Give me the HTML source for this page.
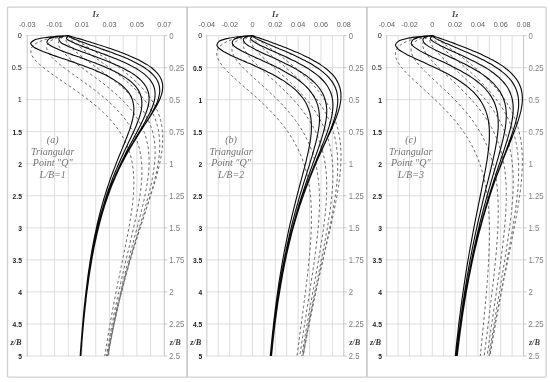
<!DOCTYPE html>
<html><head><meta charset="utf-8"><title>Iz</title>
<style>
html,body{margin:0;padding:0;background:#fff;}
svg{display:block;}
text{font-family:"Liberation Sans",sans-serif;}
.t{font-family:"Liberation Serif",serif;font-style:italic;font-weight:bold;font-size:8.4px;fill:#444;text-anchor:middle;}
.xl{font-size:8.0px;fill:#5f5f5f;text-anchor:middle;}
.yl{font-size:7.3px;fill:#262626;text-anchor:end;}
.b{font-weight:bold;font-size:6.7px;fill:#222;}
.ts{font-size:6.9px;}
.yr{font-size:8.65px;fill:#808080;text-anchor:start;}
.zb{font-family:"Liberation Serif",serif;font-style:italic;font-weight:bold;font-size:8.3px;fill:#333;}
.zr{fill:#444;}
.an{font-family:"Liberation Serif",serif;font-style:italic;font-size:10.0px;fill:#737373;text-anchor:middle;}
</style></head><body>
<svg width="550" height="382" viewBox="0 0 550 382">
<rect width="550" height="382" fill="#fff"/>
<rect x="7.5" y="7.1" width="538.6" height="370" rx="1.2" fill="none" stroke="#d0d0d0" stroke-width="1.35"/>
<path d="M187.1 7.1V377.1M366.9 7.1V377.1" stroke="#c2c2c2" stroke-width="1.5" fill="none"/>
<path d="M40.91 35.60V356.00M54.62 35.60V356.00M68.33 35.60V356.00M82.04 35.60V356.00M95.75 35.60V356.00M109.46 35.60V356.00M123.17 35.60V356.00M136.88 35.60V356.00M150.59 35.60V356.00M27.20 35.60H164.30M27.20 67.64H164.30M27.20 99.68H164.30M27.20 131.72H164.30M27.20 163.76H164.30M27.20 195.80H164.30M27.20 227.84H164.30M27.20 259.88H164.30M27.20 291.92H164.30M27.20 323.96H164.30M27.20 356.00H164.30" stroke="#d9d9d9" stroke-width="0.9" fill="none"/>
<path d="M27.20 35.60V356.00M164.30 35.60V356.00M164.30 35.60h2.8M164.30 67.64h2.8M164.30 99.68h2.8M164.30 131.72h2.8M164.30 163.76h2.8M164.30 195.80h2.8M164.30 227.84h2.8M164.30 259.88h2.8M164.30 291.92h2.8M164.30 323.96h2.8M164.30 356.00h2.8" stroke="#bfbfbf" stroke-width="0.9" fill="none"/>
<path d="M27.20 35.60h-1.6M27.20 67.64h-1.6M27.20 99.68h-1.6M27.20 131.72h-1.6M27.20 163.76h-1.6M27.20 195.80h-1.6M27.20 227.84h-1.6M27.20 259.88h-1.6M27.20 291.92h-1.6M27.20 323.96h-1.6M27.20 356.00h-1.6" stroke="#d4d4d4" stroke-width="0.9" fill="none"/>
<text x="95.8" y="16.5" class="t">I<tspan class="ts" dx="0.4">z</tspan></text>
<text transform="translate(27.20 26.7) scale(.91 1)" class="xl">-0.03</text>
<text transform="translate(54.62 26.7) scale(.91 1)" class="xl">-0.01</text>
<text transform="translate(82.04 26.7) scale(.91 1)" class="xl">0.01</text>
<text transform="translate(109.46 26.7) scale(.91 1)" class="xl">0.03</text>
<text transform="translate(136.88 26.7) scale(.91 1)" class="xl">0.05</text>
<text transform="translate(164.30 26.7) scale(.91 1)" class="xl">0.07</text>
<text x="21.90" y="38.20" class="yl">0</text>
<text x="21.90" y="70.24" class="yl">0.5</text>
<text x="21.90" y="102.28" class="yl">1</text>
<text x="21.90" y="134.62" class="yl b">1.5</text>
<text x="21.90" y="166.66" class="yl b">2</text>
<text x="21.90" y="198.70" class="yl b">2.5</text>
<text x="21.90" y="230.74" class="yl b">3</text>
<text x="21.90" y="262.78" class="yl b">3.5</text>
<text x="21.90" y="294.82" class="yl b">4</text>
<text x="21.90" y="326.86" class="yl b">4.5</text>
<text x="21.90" y="358.90" class="yl b">5</text>
<text transform="translate(169.30 38.90) scale(.9 1)" class="yr">0</text>
<text transform="translate(169.30 70.94) scale(.9 1)" class="yr">0.25</text>
<text transform="translate(169.30 102.98) scale(.9 1)" class="yr">0.5</text>
<text transform="translate(169.30 135.02) scale(.9 1)" class="yr">0.75</text>
<text transform="translate(169.30 167.06) scale(.9 1)" class="yr">1</text>
<text transform="translate(169.30 199.10) scale(.9 1)" class="yr">1.25</text>
<text transform="translate(169.30 231.14) scale(.9 1)" class="yr">1.5</text>
<text transform="translate(169.30 263.18) scale(.9 1)" class="yr">1.75</text>
<text transform="translate(169.30 295.22) scale(.9 1)" class="yr">2</text>
<text transform="translate(169.30 327.26) scale(.9 1)" class="yr">2.25</text>
<text transform="translate(169.30 359.30) scale(.9 1)" class="yr">2.5</text>
<text x="21.60" y="345.3" class="zb" text-anchor="end">z/B</text>
<text x="169.70" y="344.9" class="zb zr">z/B</text>
<text x="52.70" y="143.30" class="an">(a)</text>
<text x="52.70" y="154.95" class="an">Triangular</text>
<text x="52.70" y="166.30" class="an">Point "Q"</text>
<text x="52.70" y="177.65" class="an">L/B=1</text>
<path d="M68.3 35.6C66.7 35.7 65.0 35.9 63.4 36.0C61.7 36.2 60.0 36.4 58.4 36.7C56.8 36.9 55.1 37.2 53.5 37.5C51.9 37.9 50.2 38.2 48.6 38.6C47.0 39.0 45.4 39.5 43.8 40.0C42.2 40.5 40.6 41.1 39.2 41.8C37.7 42.5 36.1 43.2 34.8 44.3C33.6 45.3 32.2 46.5 31.5 47.9C30.8 49.3 30.7 51.2 30.9 52.8C31.1 54.4 32.1 55.9 33.0 57.3C33.8 58.7 35.0 59.9 36.1 61.2C37.2 62.4 38.5 63.5 39.7 64.6C41.0 65.7 42.3 66.8 43.6 67.8C44.9 68.9 46.2 69.9 47.5 70.8C48.9 71.8 50.2 72.8 51.6 73.8C52.9 74.7 54.3 75.7 55.7 76.6C57.0 77.6 58.4 78.5 59.8 79.5C61.1 80.4 62.5 81.4 63.9 82.3C65.3 83.2 66.6 84.2 68.0 85.1C69.4 86.0 70.8 87.0 72.1 87.9C73.5 88.9 74.9 89.8 76.2 90.8C77.6 91.7 78.9 92.7 80.3 93.7C81.6 94.7 83.0 95.6 84.3 96.6C85.7 97.6 87.0 98.6 88.3 99.7C89.6 100.7 90.9 101.7 92.2 102.8C93.5 103.8 94.8 104.9 96.1 105.9C97.3 107.0 98.6 108.1 99.8 109.2C101.1 110.3 102.3 111.5 103.5 112.6C104.7 113.8 105.9 115.0 107.0 116.1C108.2 117.3 109.3 118.6 110.4 119.8C111.5 121.0 112.6 122.3 113.7 123.6C114.7 124.9 115.8 126.2 116.8 127.5C117.7 128.9 118.7 130.2 119.6 131.6C120.5 133.0 121.4 134.4 122.2 135.9C123.1 137.3 123.9 138.8 124.6 140.3C125.4 141.7 126.1 143.3 126.7 144.8C127.4 146.3 128.0 147.9 128.6 149.4C129.1 151.0 129.6 152.6 130.1 154.2C130.6 155.8 131.0 157.4 131.4 159.0C131.7 160.6 132.1 162.3 132.4 163.9C132.6 165.5 132.9 167.2 133.1 168.8C133.3 170.5 133.4 172.2 133.5 173.8C133.7 175.5 133.8 177.1 133.8 178.8C133.9 180.5 133.9 182.1 133.9 183.8C133.8 185.5 133.8 187.1 133.7 188.8C133.7 190.5 133.6 192.1 133.5 193.8C133.4 195.4 133.2 197.1 133.1 198.8C132.9 200.4 132.7 202.1 132.6 203.7C132.4 205.4 132.2 207.0 131.9 208.7C131.7 210.3 131.5 212.0 131.2 213.6C131.0 215.3 130.7 216.9 130.5 218.6C130.2 220.2 129.9 221.8 129.6 223.5C129.4 225.1 129.1 226.8 128.8 228.4C128.5 230.0 128.2 231.7 127.9 233.3C127.6 234.9 127.2 236.6 126.9 238.2C126.6 239.9 126.3 241.5 126.0 243.1C125.6 244.7 125.3 246.4 125.0 248.0C124.7 249.6 124.3 251.3 124.0 252.9C123.7 254.5 123.3 256.2 123.0 257.8C122.7 259.4 122.3 261.1 122.0 262.7C121.6 264.3 121.3 266.0 121.0 267.6C120.6 269.2 120.3 270.8 120.0 272.5C119.6 274.1 119.3 275.7 119.0 277.4C118.6 279.0 118.3 280.6 118.0 282.3C117.7 283.9 117.3 285.5 117.0 287.2C116.7 288.8 116.4 290.4 116.0 292.1C115.7 293.7 115.4 295.3 115.1 297.0C114.8 298.6 114.4 300.2 114.1 301.9C113.8 303.5 113.5 305.1 113.2 306.8C112.9 308.4 112.6 310.0 112.3 311.7C112.0 313.3 111.7 315.0 111.4 316.6C111.1 318.2 110.8 319.9 110.5 321.5C110.2 323.1 109.9 324.8 109.6 326.4C109.3 328.1 109.1 329.7 108.8 331.3C108.5 333.0 108.2 334.6 107.9 336.3C107.7 337.9 107.4 339.6 107.1 341.2C106.9 342.8 106.6 344.5 106.3 346.1C106.1 347.8 105.8 349.4 105.6 351.1C105.3 352.7 105.0 354.4 104.8 356.0M68.3 35.6C66.7 35.8 65.0 36.0 63.4 36.3C61.8 36.6 60.1 36.9 58.6 37.4C57.0 37.9 55.4 38.4 53.9 39.1C52.4 39.8 50.8 40.6 49.6 41.7C48.5 42.8 47.2 44.2 46.8 45.7C46.5 47.2 46.8 49.1 47.3 50.6C47.8 52.1 48.8 53.5 49.8 54.8C50.8 56.2 52.0 57.4 53.1 58.6C54.3 59.7 55.5 60.8 56.8 61.9C58.0 63.0 59.3 64.1 60.6 65.1C61.9 66.2 63.2 67.2 64.5 68.2C65.9 69.2 67.2 70.1 68.5 71.1C69.9 72.1 71.2 73.1 72.6 74.0C73.9 75.0 75.3 76.0 76.6 76.9C78.0 77.9 79.3 78.9 80.7 79.8C82.0 80.8 83.4 81.7 84.7 82.7C86.1 83.7 87.4 84.7 88.8 85.6C90.1 86.6 91.4 87.6 92.8 88.6C94.1 89.6 95.4 90.6 96.7 91.6C98.0 92.7 99.3 93.7 100.6 94.7C101.9 95.8 103.2 96.8 104.5 97.9C105.7 99.0 107.0 100.1 108.2 101.2C109.4 102.3 110.7 103.4 111.9 104.6C113.1 105.7 114.3 106.9 115.4 108.0C116.6 109.2 117.7 110.4 118.8 111.7C120.0 112.9 121.0 114.1 122.1 115.4C123.2 116.7 124.2 118.0 125.2 119.3C126.2 120.6 127.2 122.0 128.1 123.4C129.0 124.8 129.9 126.2 130.7 127.6C131.6 129.0 132.4 130.5 133.1 131.9C133.9 133.4 134.6 134.9 135.3 136.5C135.9 138.0 136.5 139.5 137.1 141.1C137.6 142.6 138.2 144.2 138.6 145.8C139.1 147.4 139.5 149.0 139.8 150.6C140.2 152.3 140.5 153.9 140.8 155.5C141.0 157.2 141.2 158.8 141.4 160.5C141.6 162.1 141.7 163.8 141.8 165.4C141.9 167.1 141.9 168.8 141.9 170.4C141.9 172.1 141.9 173.7 141.9 175.4C141.8 177.1 141.7 178.7 141.6 180.4C141.5 182.0 141.4 183.7 141.2 185.3C141.0 187.0 140.9 188.6 140.7 190.3C140.4 191.9 140.2 193.6 140.0 195.2C139.7 196.8 139.5 198.5 139.2 200.1C138.9 201.8 138.7 203.4 138.4 205.0C138.1 206.7 137.7 208.3 137.4 209.9C137.1 211.6 136.8 213.2 136.4 214.8C136.1 216.4 135.8 218.1 135.4 219.7C135.1 221.3 134.7 222.9 134.3 224.5C134.0 226.2 133.6 227.8 133.2 229.4C132.9 231.0 132.5 232.6 132.1 234.2C131.7 235.9 131.4 237.5 131.0 239.1C130.6 240.7 130.2 242.3 129.8 243.9C129.5 245.6 129.1 247.2 128.7 248.8C128.3 250.4 127.9 252.0 127.5 253.6C127.1 255.2 126.8 256.9 126.4 258.5C126.0 260.1 125.6 261.7 125.2 263.3C124.9 264.9 124.5 266.5 124.1 268.2C123.7 269.8 123.3 271.4 123.0 273.0C122.6 274.6 122.2 276.2 121.9 277.9C121.5 279.5 121.1 281.1 120.7 282.7C120.4 284.3 120.0 286.0 119.7 287.6C119.3 289.2 118.9 290.8 118.6 292.4C118.2 294.1 117.9 295.7 117.5 297.3C117.2 298.9 116.8 300.5 116.5 302.2C116.2 303.8 115.8 305.4 115.5 307.0C115.2 308.7 114.8 310.3 114.5 311.9C114.2 313.6 113.8 315.2 113.5 316.8C113.2 318.4 112.9 320.1 112.6 321.7C112.2 323.3 111.9 325.0 111.6 326.6C111.3 328.2 111.0 329.8 110.7 331.5C110.4 333.1 110.1 334.7 109.8 336.4C109.5 338.0 109.2 339.6 108.9 341.3C108.7 342.9 108.4 344.5 108.1 346.2C107.8 347.8 107.5 349.5 107.3 351.1C107.0 352.7 106.7 354.4 106.4 356.0M68.3 35.6C66.7 36.0 65.0 36.2 63.5 36.9C62.1 37.6 60.4 38.5 59.6 39.8C58.8 41.1 58.4 43.0 58.6 44.5C58.8 46.1 59.8 47.6 60.7 49.0C61.5 50.4 62.7 51.7 63.8 52.9C65.0 54.1 66.2 55.2 67.4 56.3C68.6 57.5 69.9 58.5 71.2 59.6C72.5 60.6 73.8 61.7 75.1 62.7C76.4 63.7 77.7 64.7 79.1 65.7C80.4 66.7 81.7 67.7 83.1 68.6C84.4 69.6 85.7 70.6 87.1 71.6C88.4 72.6 89.8 73.5 91.1 74.5C92.4 75.5 93.8 76.5 95.1 77.5C96.4 78.4 97.8 79.4 99.1 80.4C100.4 81.4 101.7 82.4 103.1 83.4C104.4 84.5 105.7 85.5 107.0 86.5C108.3 87.6 109.5 88.6 110.8 89.7C112.1 90.7 113.4 91.8 114.6 92.9C115.9 94.0 117.1 95.1 118.3 96.2C119.5 97.4 120.7 98.5 121.9 99.7C123.1 100.8 124.2 102.0 125.4 103.2C126.5 104.5 127.6 105.7 128.7 106.9C129.8 108.2 130.9 109.5 131.9 110.8C132.9 112.1 133.9 113.4 134.8 114.8C135.8 116.1 136.7 117.5 137.6 118.9C138.5 120.3 139.3 121.8 140.1 123.2C140.9 124.7 141.6 126.2 142.3 127.7C143.0 129.2 143.6 130.7 144.2 132.3C144.8 133.8 145.3 135.4 145.8 137.0C146.3 138.6 146.7 140.2 147.0 141.8C147.4 143.4 147.7 145.1 148.0 146.7C148.3 148.3 148.5 150.0 148.6 151.6C148.8 153.3 148.9 155.0 149.0 156.6C149.1 158.3 149.1 159.9 149.1 161.6C149.1 163.2 149.1 164.9 149.0 166.6C148.9 168.2 148.8 169.9 148.7 171.5C148.5 173.2 148.4 174.8 148.2 176.5C148.0 178.1 147.7 179.8 147.5 181.4C147.3 183.1 147.0 184.7 146.7 186.3C146.4 188.0 146.1 189.6 145.8 191.2C145.5 192.9 145.2 194.5 144.8 196.1C144.5 197.7 144.1 199.3 143.8 201.0C143.4 202.6 143.0 204.2 142.7 205.8C142.3 207.4 141.9 209.0 141.5 210.7C141.1 212.3 140.7 213.9 140.3 215.5C139.9 217.1 139.5 218.7 139.0 220.3C138.6 221.9 138.2 223.5 137.8 225.1C137.4 226.7 136.9 228.3 136.5 229.9C136.1 231.5 135.7 233.1 135.2 234.7C134.8 236.3 134.4 237.9 133.9 239.5C133.5 241.2 133.1 242.8 132.6 244.4C132.2 246.0 131.8 247.6 131.4 249.2C130.9 250.8 130.5 252.4 130.1 254.0C129.6 255.6 129.2 257.2 128.8 258.8C128.4 260.4 128.0 262.0 127.5 263.6C127.1 265.2 126.7 266.8 126.3 268.4C125.9 270.0 125.5 271.6 125.1 273.2C124.7 274.9 124.3 276.5 123.9 278.1C123.5 279.7 123.1 281.3 122.7 282.9C122.3 284.5 121.9 286.1 121.5 287.7C121.1 289.4 120.7 291.0 120.4 292.6C120.0 294.2 119.6 295.8 119.2 297.4C118.9 299.1 118.5 300.7 118.1 302.3C117.8 303.9 117.4 305.5 117.1 307.2C116.7 308.8 116.3 310.4 116.0 312.0C115.6 313.6 115.3 315.3 115.0 316.9C114.6 318.5 114.3 320.1 113.9 321.8C113.6 323.4 113.3 325.0 113.0 326.6C112.6 328.3 112.3 329.9 112.0 331.5C111.7 333.1 111.4 334.8 111.1 336.4C110.7 338.0 110.4 339.7 110.1 341.3C109.8 342.9 109.5 344.6 109.2 346.2C108.9 347.8 108.6 349.5 108.4 351.1C108.1 352.7 107.8 354.4 107.5 356.0M68.3 35.6C67.5 36.8 65.8 38.0 65.7 39.3C65.6 40.7 66.9 42.4 67.8 43.8C68.7 45.2 69.9 46.4 71.1 47.5C72.3 48.7 73.5 49.8 74.8 50.9C76.0 52.0 77.3 53.1 78.6 54.1C79.9 55.2 81.2 56.2 82.6 57.2C83.9 58.2 85.2 59.2 86.6 60.2C87.9 61.2 89.2 62.1 90.6 63.1C91.9 64.1 93.3 65.1 94.6 66.1C96.0 67.0 97.3 68.0 98.7 69.0C100.0 70.0 101.4 70.9 102.7 71.9C104.0 72.9 105.4 73.9 106.7 74.9C108.0 75.9 109.4 76.9 110.7 78.0C112.0 79.0 113.3 80.0 114.6 81.1C115.9 82.1 117.2 83.2 118.4 84.2C119.7 85.3 121.0 86.4 122.2 87.5C123.5 88.6 124.7 89.7 125.9 90.9C127.1 92.0 128.3 93.2 129.5 94.3C130.7 95.5 131.8 96.7 133.0 97.9C134.1 99.2 135.2 100.4 136.3 101.7C137.3 103.0 138.4 104.3 139.4 105.6C140.4 106.9 141.4 108.3 142.3 109.7C143.2 111.0 144.1 112.4 145.0 113.9C145.8 115.3 146.6 116.8 147.4 118.3C148.1 119.7 148.8 121.2 149.4 122.8C150.1 124.3 150.7 125.9 151.2 127.5C151.8 129.0 152.2 130.6 152.7 132.2C153.1 133.8 153.4 135.5 153.8 137.1C154.1 138.7 154.3 140.4 154.5 142.0C154.7 143.7 154.9 145.3 155.0 147.0C155.1 148.7 155.1 150.3 155.1 152.0C155.1 153.7 155.1 155.3 155.0 157.0C155.0 158.7 154.9 160.3 154.7 162.0C154.6 163.6 154.4 165.3 154.2 166.9C154.0 168.6 153.7 170.2 153.5 171.9C153.2 173.5 152.9 175.2 152.6 176.8C152.3 178.4 152.0 180.1 151.7 181.7C151.3 183.3 151.0 185.0 150.6 186.6C150.2 188.2 149.9 189.8 149.5 191.4C149.1 193.1 148.7 194.7 148.2 196.3C147.8 197.9 147.4 199.5 147.0 201.1C146.5 202.7 146.1 204.3 145.6 205.9C145.2 207.5 144.7 209.1 144.3 210.7C143.8 212.3 143.4 213.9 142.9 215.5C142.4 217.1 142.0 218.7 141.5 220.3C141.0 221.9 140.6 223.5 140.1 225.1C139.6 226.7 139.1 228.3 138.7 229.9C138.2 231.5 137.7 233.1 137.3 234.7C136.8 236.3 136.3 237.9 135.8 239.5C135.4 241.1 134.9 242.7 134.4 244.3C134.0 245.9 133.5 247.5 133.1 249.1C132.6 250.7 132.1 252.3 131.7 253.9C131.2 255.5 130.8 257.1 130.3 258.7C129.9 260.3 129.4 261.9 129.0 263.5C128.5 265.1 128.1 266.7 127.6 268.3C127.2 269.9 126.8 271.5 126.3 273.1C125.9 274.7 125.5 276.4 125.1 278.0C124.6 279.6 124.2 281.2 123.8 282.8C123.4 284.4 123.0 286.0 122.6 287.6C122.2 289.2 121.8 290.9 121.4 292.5C121.0 294.1 120.6 295.7 120.2 297.3C119.8 299.0 119.4 300.6 119.0 302.2C118.6 303.8 118.3 305.4 117.9 307.1C117.5 308.7 117.2 310.3 116.8 311.9C116.4 313.6 116.1 315.2 115.7 316.8C115.4 318.4 115.0 320.1 114.7 321.7C114.3 323.3 114.0 324.9 113.6 326.6C113.3 328.2 113.0 329.8 112.6 331.5C112.3 333.1 112.0 334.7 111.7 336.4C111.3 338.0 111.0 339.6 110.7 341.3C110.4 342.9 110.1 344.5 109.8 346.2C109.5 347.8 109.2 349.4 108.9 351.1C108.6 352.7 108.3 354.4 108.0 356.0M68.3 35.6C69.2 36.9 69.9 38.4 70.9 39.6C72.0 40.8 73.3 41.8 74.6 42.9C75.9 43.9 77.2 44.9 78.5 45.9C79.8 46.9 81.2 47.9 82.5 48.9C83.8 49.8 85.2 50.8 86.5 51.7C87.9 52.7 89.3 53.6 90.6 54.6C92.0 55.5 93.3 56.4 94.7 57.4C96.0 58.3 97.4 59.3 98.8 60.2C100.1 61.2 101.5 62.1 102.8 63.0C104.2 64.0 105.5 64.9 106.9 65.9C108.2 66.9 109.6 67.8 110.9 68.8C112.2 69.8 113.5 70.8 114.9 71.8C116.2 72.8 117.5 73.8 118.8 74.8C120.1 75.8 121.4 76.9 122.6 77.9C123.9 79.0 125.2 80.0 126.4 81.1C127.7 82.2 128.9 83.3 130.1 84.4C131.4 85.5 132.6 86.6 133.7 87.8C134.9 89.0 136.1 90.1 137.2 91.3C138.3 92.5 139.5 93.8 140.5 95.0C141.6 96.3 142.7 97.5 143.7 98.8C144.7 100.1 145.7 101.5 146.6 102.8C147.6 104.2 148.5 105.6 149.3 107.0C150.2 108.4 151.0 109.8 151.8 111.3C152.5 112.7 153.3 114.2 153.9 115.7C154.6 117.3 155.2 118.8 155.7 120.3C156.3 121.9 156.8 123.5 157.2 125.1C157.7 126.7 158.0 128.3 158.4 129.9C158.7 131.5 158.9 133.2 159.1 134.8C159.3 136.4 159.5 138.1 159.6 139.7C159.7 141.4 159.7 143.0 159.8 144.7C159.8 146.3 159.7 148.0 159.6 149.6C159.6 151.3 159.4 152.9 159.3 154.6C159.1 156.2 158.9 157.9 158.7 159.5C158.5 161.1 158.2 162.8 158.0 164.4C157.7 166.0 157.4 167.6 157.1 169.3C156.7 170.9 156.4 172.5 156.0 174.1C155.7 175.7 155.3 177.3 154.9 178.9C154.5 180.5 154.1 182.1 153.7 183.7C153.2 185.3 152.8 186.9 152.4 188.5C151.9 190.1 151.5 191.7 151.0 193.3C150.5 194.9 150.1 196.5 149.6 198.0C149.1 199.6 148.6 201.2 148.2 202.8C147.7 204.4 147.2 205.9 146.7 207.5C146.2 209.1 145.7 210.7 145.2 212.2C144.7 213.8 144.2 215.4 143.7 217.0C143.2 218.5 142.7 220.1 142.2 221.7C141.7 223.3 141.2 224.8 140.7 226.4C140.2 228.0 139.7 229.6 139.2 231.1C138.7 232.7 138.2 234.3 137.7 235.9C137.2 237.4 136.7 239.0 136.2 240.6C135.8 242.2 135.3 243.7 134.8 245.3C134.3 246.9 133.8 248.5 133.3 250.1C132.9 251.6 132.4 253.2 131.9 254.8C131.4 256.4 131.0 258.0 130.5 259.6C130.0 261.1 129.6 262.7 129.1 264.3C128.7 265.9 128.2 267.5 127.8 269.1C127.3 270.7 126.9 272.3 126.4 273.9C126.0 275.5 125.6 277.0 125.1 278.6C124.7 280.2 124.3 281.8 123.9 283.4C123.4 285.0 123.0 286.6 122.6 288.2C122.2 289.8 121.8 291.4 121.4 293.0C121.0 294.6 120.6 296.2 120.2 297.8C119.8 299.4 119.4 301.0 119.0 302.6C118.6 304.3 118.2 305.9 117.9 307.5C117.5 309.1 117.1 310.7 116.7 312.3C116.4 313.9 116.0 315.5 115.7 317.1C115.3 318.7 114.9 320.4 114.6 322.0C114.2 323.6 113.9 325.2 113.6 326.8C113.2 328.4 112.9 330.0 112.5 331.7C112.2 333.3 111.9 334.9 111.6 336.5C111.2 338.1 110.9 339.8 110.6 341.4C110.3 343.0 110.0 344.6 109.7 346.3C109.4 347.9 109.1 349.5 108.8 351.1C108.5 352.7 108.2 354.4 107.9 356.0M68.3 35.6C69.8 36.4 71.2 37.3 72.6 38.1C74.0 38.9 75.5 39.8 76.9 40.6C78.3 41.5 79.7 42.3 81.1 43.2C82.6 44.0 84.0 44.8 85.4 45.7C86.8 46.5 88.2 47.4 89.6 48.3C91.0 49.1 92.5 50.0 93.9 50.9C95.3 51.7 96.7 52.6 98.1 53.5C99.5 54.4 100.9 55.2 102.2 56.1C103.6 57.0 105.0 57.9 106.4 58.9C107.8 59.8 109.1 60.7 110.5 61.6C111.9 62.5 113.2 63.5 114.6 64.4C115.9 65.4 117.3 66.4 118.6 67.3C119.9 68.3 121.3 69.3 122.6 70.3C123.9 71.3 125.2 72.3 126.5 73.4C127.8 74.4 129.0 75.5 130.3 76.5C131.5 77.6 132.8 78.7 134.0 79.8C135.2 80.9 136.4 82.1 137.6 83.2C138.8 84.4 139.9 85.6 141.1 86.8C142.2 88.0 143.3 89.2 144.4 90.4C145.5 91.7 146.5 93.0 147.5 94.3C148.5 95.6 149.5 96.9 150.4 98.3C151.4 99.7 152.3 101.1 153.1 102.5C153.9 103.9 154.7 105.3 155.5 106.8C156.2 108.3 156.9 109.8 157.6 111.3C158.2 112.8 158.8 114.4 159.3 116.0C159.8 117.5 160.3 119.1 160.7 120.7C161.1 122.3 161.4 124.0 161.7 125.6C162.0 127.2 162.2 128.9 162.3 130.5C162.5 132.1 162.6 133.8 162.7 135.4C162.7 137.1 162.7 138.7 162.7 140.4C162.7 142.0 162.6 143.7 162.4 145.3C162.3 147.0 162.2 148.6 162.0 150.3C161.8 151.9 161.5 153.6 161.3 155.2C161.0 156.8 160.7 158.4 160.4 160.1C160.1 161.7 159.7 163.3 159.4 164.9C159.0 166.5 158.6 168.1 158.2 169.7C157.8 171.3 157.4 172.9 157.0 174.5C156.6 176.1 156.1 177.7 155.7 179.3C155.2 180.9 154.7 182.5 154.3 184.1C153.8 185.7 153.3 187.2 152.8 188.8C152.3 190.4 151.8 192.0 151.3 193.5C150.8 195.1 150.3 196.7 149.8 198.3C149.3 199.8 148.8 201.4 148.3 203.0C147.7 204.5 147.2 206.1 146.7 207.7C146.2 209.2 145.6 210.8 145.1 212.4C144.6 213.9 144.1 215.5 143.6 217.1C143.0 218.6 142.5 220.2 142.0 221.8C141.5 223.3 140.9 224.9 140.4 226.5C139.9 228.0 139.4 229.6 138.9 231.2C138.4 232.8 137.8 234.3 137.3 235.9C136.8 237.5 136.3 239.0 135.8 240.6C135.3 242.2 134.8 243.8 134.3 245.3C133.8 246.9 133.3 248.5 132.8 250.1C132.3 251.7 131.9 253.2 131.4 254.8C130.9 256.4 130.4 258.0 129.9 259.6C129.5 261.1 129.0 262.7 128.5 264.3C128.1 265.9 127.6 267.5 127.2 269.1C126.7 270.7 126.3 272.3 125.8 273.8C125.4 275.4 124.9 277.0 124.5 278.6C124.0 280.2 123.6 281.8 123.2 283.4C122.8 285.0 122.3 286.6 121.9 288.2C121.5 289.8 121.1 291.4 120.7 293.0C120.3 294.6 119.9 296.2 119.5 297.8C119.1 299.4 118.7 301.0 118.3 302.6C117.9 304.2 117.5 305.8 117.2 307.4C116.8 309.1 116.4 310.7 116.0 312.3C115.7 313.9 115.3 315.5 115.0 317.1C114.6 318.7 114.2 320.3 113.9 322.0C113.5 323.6 113.2 325.2 112.9 326.8C112.5 328.4 112.2 330.0 111.8 331.7C111.5 333.3 111.2 334.9 110.9 336.5C110.5 338.1 110.2 339.8 109.9 341.4C109.6 343.0 109.3 344.6 109.0 346.2C108.7 347.9 108.4 349.5 108.1 351.1C107.8 352.7 107.5 354.4 107.2 356.0" stroke="#6a6a6a" stroke-width="1.0" fill="none" stroke-dasharray="2.8 2.5"/>
<path d="M68.3 35.6C66.7 35.7 65.0 35.7 63.4 35.8C61.7 35.9 60.1 36.0 58.4 36.1C56.7 36.3 55.1 36.4 53.4 36.6C51.8 36.7 50.1 36.9 48.5 37.1C46.9 37.3 45.2 37.6 43.6 37.8C41.9 38.1 40.3 38.4 38.7 38.8C37.1 39.2 35.3 39.4 34.0 40.3C32.7 41.1 30.7 42.5 30.7 43.6C30.7 44.8 32.7 46.2 34.0 47.2C35.3 48.2 36.9 48.8 38.4 49.5C39.9 50.2 41.4 50.8 43.0 51.5C44.5 52.1 46.0 52.7 47.6 53.3C49.2 53.8 50.7 54.4 52.3 54.9C53.8 55.5 55.4 56.0 57.0 56.6C58.5 57.1 60.1 57.7 61.7 58.2C63.2 58.7 64.8 59.3 66.4 59.8C68.0 60.3 69.5 60.9 71.1 61.4C72.7 61.9 74.2 62.5 75.8 63.0C77.3 63.6 78.9 64.1 80.5 64.7C82.0 65.3 83.6 65.8 85.1 66.4C86.7 67.0 88.2 67.6 89.8 68.2C91.3 68.8 92.9 69.4 94.4 70.1C95.9 70.7 97.4 71.4 99.0 72.0C100.5 72.7 102.0 73.4 103.5 74.1C105.0 74.8 106.5 75.6 107.9 76.3C109.4 77.1 110.8 77.9 112.3 78.7C113.7 79.6 115.1 80.5 116.5 81.4C117.9 82.3 119.2 83.3 120.5 84.3C121.8 85.3 123.1 86.4 124.3 87.6C125.4 88.7 126.6 89.9 127.6 91.2C128.6 92.5 129.6 93.9 130.4 95.4C131.2 96.8 131.9 98.3 132.4 99.9C132.9 101.5 133.3 103.1 133.5 104.7C133.8 106.4 133.9 108.0 133.9 109.7C133.8 111.3 133.7 113.0 133.5 114.6C133.3 116.3 132.9 117.9 132.6 119.5C132.2 121.1 131.8 122.7 131.3 124.3C130.9 125.9 130.3 127.5 129.8 129.1C129.3 130.6 128.7 132.2 128.1 133.8C127.6 135.3 127.0 136.9 126.3 138.4C125.7 139.9 125.1 141.5 124.5 143.0C123.9 144.5 123.2 146.1 122.6 147.6C122.0 149.1 121.4 150.7 120.7 152.2C120.1 153.7 119.5 155.3 118.8 156.8C118.2 158.4 117.6 159.9 117.0 161.4C116.4 163.0 115.8 164.5 115.2 166.1C114.6 167.6 114.0 169.1 113.4 170.7C112.8 172.2 112.2 173.8 111.6 175.4C111.1 176.9 110.5 178.5 110.0 180.0C109.4 181.6 108.9 183.2 108.4 184.7C107.8 186.3 107.3 187.9 106.8 189.5C106.3 191.0 105.8 192.6 105.3 194.2C104.8 195.8 104.3 197.4 103.8 199.0C103.4 200.6 102.9 202.1 102.5 203.7C102.0 205.3 101.6 206.9 101.1 208.5C100.7 210.1 100.3 211.7 99.9 213.3C99.5 214.9 99.1 216.6 98.7 218.2C98.3 219.8 97.9 221.4 97.5 223.0C97.1 224.6 96.8 226.2 96.4 227.8C96.1 229.5 95.7 231.1 95.4 232.7C95.0 234.3 94.7 236.0 94.4 237.6C94.0 239.2 93.7 240.8 93.4 242.5C93.1 244.1 92.8 245.7 92.5 247.3C92.2 249.0 91.9 250.6 91.6 252.2C91.3 253.9 91.1 255.5 90.8 257.1C90.5 258.8 90.3 260.4 90.0 262.1C89.7 263.7 89.5 265.3 89.3 267.0C89.0 268.6 88.8 270.3 88.5 271.9C88.3 273.5 88.1 275.2 87.8 276.8C87.6 278.5 87.4 280.1 87.2 281.7C87.0 283.4 86.8 285.0 86.6 286.7C86.4 288.3 86.2 290.0 86.0 291.6C85.8 293.3 85.6 294.9 85.4 296.6C85.2 298.2 85.0 299.9 84.9 301.5C84.7 303.2 84.5 304.8 84.3 306.4C84.2 308.1 84.0 309.7 83.8 311.4C83.7 313.0 83.5 314.7 83.4 316.3C83.2 318.0 83.1 319.6 82.9 321.3C82.8 322.9 82.6 324.6 82.5 326.3C82.3 327.9 82.2 329.6 82.1 331.2C81.9 332.9 81.8 334.5 81.7 336.2C81.5 337.8 81.4 339.5 81.3 341.1C81.1 342.8 81.0 344.4 80.9 346.1C80.8 347.7 80.7 349.4 80.5 351.0C80.4 352.7 80.3 354.3 80.2 356.0M68.3 35.6C66.7 35.7 65.0 35.8 63.4 35.9C61.8 36.1 60.1 36.3 58.5 36.5C56.9 36.8 55.2 37.0 53.6 37.4C52.1 37.8 50.1 38.0 49.0 38.9C47.9 39.8 46.8 41.6 47.0 42.7C47.3 43.9 49.4 44.9 50.8 45.8C52.2 46.7 53.7 47.4 55.2 48.1C56.7 48.8 58.2 49.4 59.7 50.0C61.3 50.6 62.8 51.2 64.3 51.8C65.9 52.4 67.4 53.0 69.0 53.5C70.5 54.1 72.1 54.6 73.6 55.2C75.2 55.7 76.7 56.3 78.3 56.8C79.8 57.4 81.4 57.9 82.9 58.5C84.5 59.1 86.0 59.6 87.6 60.2C89.1 60.7 90.7 61.3 92.2 61.9C93.7 62.5 95.3 63.1 96.8 63.7C98.3 64.3 99.9 64.9 101.4 65.5C102.9 66.1 104.4 66.7 106.0 67.4C107.5 68.1 109.0 68.7 110.5 69.4C112.0 70.1 113.4 70.8 114.9 71.6C116.4 72.3 117.8 73.1 119.3 73.9C120.7 74.7 122.1 75.5 123.5 76.4C124.9 77.3 126.3 78.2 127.6 79.1C128.9 80.1 130.3 81.1 131.5 82.2C132.7 83.3 133.9 84.5 135.0 85.7C136.1 86.9 137.1 88.3 138.0 89.6C138.8 91.0 139.6 92.5 140.2 94.0C140.8 95.6 141.3 97.2 141.5 98.8C141.8 100.4 141.9 102.1 141.9 103.7C141.9 105.3 141.8 107.0 141.5 108.6C141.3 110.2 140.9 111.9 140.5 113.4C140.1 115.0 139.6 116.6 139.1 118.2C138.6 119.7 138.0 121.3 137.4 122.8C136.8 124.4 136.2 125.9 135.5 127.4C134.9 128.9 134.2 130.4 133.5 131.9C132.8 133.4 132.1 134.9 131.4 136.4C130.7 137.9 130.0 139.4 129.3 140.8C128.6 142.3 127.9 143.8 127.2 145.3C126.5 146.8 125.8 148.3 125.1 149.8C124.4 151.3 123.7 152.7 123.0 154.2C122.3 155.7 121.6 157.2 120.9 158.7C120.3 160.2 119.6 161.7 118.9 163.2C118.3 164.7 117.6 166.3 117.0 167.8C116.3 169.3 115.7 170.8 115.1 172.3C114.5 173.9 113.8 175.4 113.2 176.9C112.6 178.5 112.0 180.0 111.5 181.5C110.9 183.1 110.3 184.6 109.8 186.2C109.2 187.7 108.6 189.3 108.1 190.8C107.6 192.4 107.1 193.9 106.5 195.5C106.0 197.1 105.5 198.6 105.0 200.2C104.5 201.8 104.1 203.4 103.6 204.9C103.1 206.5 102.7 208.1 102.2 209.7C101.8 211.3 101.3 212.8 100.9 214.4C100.5 216.0 100.0 217.6 99.6 219.2C99.2 220.8 98.8 222.4 98.4 224.0C98.0 225.6 97.7 227.2 97.3 228.8C96.9 230.4 96.6 232.0 96.2 233.6C95.9 235.2 95.5 236.8 95.2 238.5C94.8 240.1 94.5 241.7 94.2 243.3C93.9 244.9 93.5 246.5 93.2 248.1C92.9 249.8 92.6 251.4 92.3 253.0C92.1 254.6 91.8 256.2 91.5 257.9C91.2 259.5 90.9 261.1 90.7 262.7C90.4 264.4 90.1 266.0 89.9 267.6C89.6 269.2 89.4 270.9 89.2 272.5C88.9 274.1 88.7 275.8 88.4 277.4C88.2 279.0 88.0 280.6 87.8 282.3C87.6 283.9 87.3 285.5 87.1 287.2C86.9 288.8 86.7 290.4 86.5 292.1C86.3 293.7 86.1 295.3 85.9 297.0C85.7 298.6 85.6 300.2 85.4 301.9C85.2 303.5 85.0 305.2 84.8 306.8C84.7 308.4 84.5 310.1 84.3 311.7C84.2 313.3 84.0 315.0 83.8 316.6C83.7 318.3 83.5 319.9 83.4 321.5C83.2 323.2 83.1 324.8 82.9 326.5C82.8 328.1 82.6 329.7 82.5 331.4C82.3 333.0 82.2 334.7 82.1 336.3C81.9 337.9 81.8 339.6 81.7 341.2C81.5 342.9 81.4 344.5 81.3 346.1C81.2 347.8 81.0 349.4 80.9 351.1C80.8 352.7 80.7 354.4 80.6 356.0M68.3 35.6C66.7 35.8 65.0 35.8 63.4 36.3C61.8 36.7 59.3 37.2 58.9 38.3C58.5 39.3 59.7 41.2 60.7 42.3C61.7 43.4 63.5 44.0 65.0 44.8C66.4 45.6 68.0 46.2 69.5 46.9C71.0 47.5 72.6 48.1 74.1 48.8C75.7 49.4 77.2 50.0 78.8 50.5C80.3 51.1 81.9 51.7 83.4 52.3C85.0 52.8 86.6 53.4 88.1 54.0C89.7 54.5 91.3 55.1 92.8 55.7C94.4 56.3 95.9 56.8 97.5 57.4C99.1 58.0 100.6 58.6 102.2 59.2C103.7 59.8 105.3 60.4 106.8 61.0C108.4 61.6 109.9 62.2 111.4 62.9C113.0 63.5 114.5 64.2 116.0 64.9C117.5 65.6 119.0 66.2 120.5 67.0C122.0 67.7 123.5 68.4 125.0 69.2C126.4 70.0 127.9 70.8 129.3 71.6C130.8 72.5 132.2 73.4 133.6 74.3C134.9 75.2 136.3 76.2 137.6 77.3C138.9 78.3 140.1 79.4 141.3 80.6C142.4 81.8 143.5 83.0 144.5 84.4C145.5 85.7 146.3 87.2 147.0 88.7C147.7 90.2 148.3 91.8 148.6 93.4C148.9 95.0 149.1 96.7 149.1 98.4C149.1 100.0 149.0 101.7 148.7 103.3C148.4 105.0 148.0 106.6 147.6 108.2C147.2 109.8 146.6 111.3 146.0 112.9C145.4 114.5 144.8 116.0 144.1 117.5C143.5 119.0 142.7 120.5 142.0 122.0C141.3 123.5 140.6 125.0 139.8 126.5C139.0 128.0 138.3 129.5 137.5 130.9C136.7 132.4 135.9 133.9 135.1 135.3C134.4 136.8 133.6 138.3 132.8 139.7C132.0 141.2 131.2 142.7 130.4 144.1C129.6 145.6 128.9 147.1 128.1 148.5C127.3 150.0 126.6 151.5 125.8 153.0C125.1 154.4 124.3 155.9 123.6 157.4C122.8 158.9 122.1 160.4 121.4 161.9C120.7 163.4 120.0 164.9 119.3 166.4C118.6 167.9 117.9 169.4 117.2 171.0C116.6 172.5 115.9 174.0 115.3 175.5C114.6 177.1 114.0 178.6 113.3 180.2C112.7 181.7 112.1 183.2 111.5 184.8C110.9 186.3 110.3 187.9 109.8 189.5C109.2 191.0 108.6 192.6 108.1 194.2C107.5 195.7 107.0 197.3 106.5 198.9C105.9 200.5 105.4 202.0 104.9 203.6C104.4 205.2 103.9 206.8 103.5 208.4C103.0 210.0 102.5 211.6 102.1 213.2C101.6 214.8 101.2 216.4 100.7 218.0C100.3 219.6 99.9 221.2 99.5 222.8C99.0 224.4 98.6 226.0 98.3 227.6C97.9 229.3 97.5 230.9 97.1 232.5C96.7 234.1 96.4 235.7 96.0 237.4C95.7 239.0 95.3 240.6 95.0 242.2C94.6 243.9 94.3 245.5 94.0 247.1C93.7 248.8 93.3 250.4 93.0 252.0C92.7 253.7 92.4 255.3 92.1 256.9C91.8 258.6 91.6 260.2 91.3 261.9C91.0 263.5 90.7 265.1 90.5 266.8C90.2 268.4 89.9 270.1 89.7 271.7C89.4 273.3 89.2 275.0 89.0 276.6C88.7 278.3 88.5 279.9 88.2 281.6C88.0 283.2 87.8 284.9 87.6 286.5C87.4 288.2 87.1 289.8 86.9 291.5C86.7 293.1 86.5 294.8 86.3 296.4C86.1 298.1 85.9 299.7 85.7 301.4C85.6 303.0 85.4 304.7 85.2 306.3C85.0 308.0 84.8 309.6 84.7 311.3C84.5 312.9 84.3 314.6 84.1 316.2C84.0 317.9 83.8 319.6 83.7 321.2C83.5 322.9 83.3 324.5 83.2 326.2C83.0 327.8 82.9 329.5 82.8 331.1C82.6 332.8 82.5 334.5 82.3 336.1C82.2 337.8 82.0 339.4 81.9 341.1C81.8 342.7 81.7 344.4 81.5 346.1C81.4 347.7 81.3 349.4 81.1 351.0C81.0 352.7 80.9 354.3 80.8 356.0M68.3 35.6C67.7 36.6 66.3 37.7 66.5 38.6C66.7 39.6 69.1 40.5 70.6 41.3C72.0 42.1 73.5 42.7 75.0 43.4C76.5 44.0 78.1 44.6 79.6 45.3C81.1 45.9 82.7 46.4 84.2 47.0C85.8 47.6 87.3 48.2 88.9 48.7C90.4 49.3 91.9 49.8 93.5 50.4C95.0 51.0 96.6 51.5 98.1 52.1C99.7 52.7 101.2 53.2 102.8 53.8C104.3 54.4 105.9 54.9 107.4 55.5C108.9 56.1 110.5 56.7 112.0 57.3C113.5 57.9 115.1 58.5 116.6 59.1C118.1 59.8 119.6 60.4 121.1 61.1C122.6 61.7 124.1 62.4 125.6 63.1C127.1 63.8 128.6 64.5 130.1 65.3C131.5 66.0 133.0 66.8 134.4 67.6C135.9 68.4 137.3 69.2 138.7 70.1C140.0 71.0 141.4 71.9 142.7 72.9C144.0 73.9 145.3 75.0 146.5 76.1C147.7 77.2 148.9 78.4 149.9 79.7C150.9 81.0 151.8 82.4 152.6 83.8C153.4 85.3 154.0 86.8 154.4 88.4C154.8 90.0 155.1 91.6 155.1 93.3C155.2 94.9 155.0 96.6 154.8 98.2C154.6 99.8 154.2 101.4 153.7 103.0C153.3 104.6 152.7 106.1 152.1 107.7C151.5 109.2 150.8 110.7 150.1 112.2C149.4 113.7 148.7 115.1 147.9 116.6C147.1 118.1 146.3 119.5 145.5 120.9C144.7 122.4 143.9 123.8 143.1 125.2C142.3 126.7 141.4 128.1 140.6 129.5C139.8 130.9 138.9 132.3 138.1 133.7C137.3 135.2 136.4 136.6 135.6 138.0C134.8 139.4 133.9 140.8 133.1 142.3C132.3 143.7 131.5 145.1 130.6 146.5C129.8 148.0 129.0 149.4 128.2 150.9C127.5 152.3 126.7 153.7 125.9 155.2C125.1 156.7 124.4 158.1 123.6 159.6C122.9 161.0 122.1 162.5 121.4 164.0C120.7 165.5 119.9 166.9 119.2 168.4C118.5 169.9 117.8 171.4 117.2 172.9C116.5 174.4 115.8 175.9 115.2 177.4C114.5 178.9 113.9 180.5 113.3 182.0C112.6 183.5 112.0 185.0 111.4 186.6C110.8 188.1 110.2 189.6 109.7 191.2C109.1 192.7 108.5 194.3 108.0 195.8C107.4 197.4 106.9 198.9 106.4 200.5C105.8 202.0 105.3 203.6 104.8 205.2C104.3 206.7 103.9 208.3 103.4 209.9C102.9 211.5 102.4 213.1 102.0 214.6C101.5 216.2 101.1 217.8 100.7 219.4C100.2 221.0 99.8 222.6 99.4 224.2C99.0 225.8 98.6 227.4 98.2 229.0C97.8 230.5 97.4 232.2 97.0 233.8C96.7 235.4 96.3 237.0 96.0 238.6C95.6 240.2 95.3 241.8 94.9 243.4C94.6 245.0 94.3 246.6 93.9 248.2C93.6 249.9 93.3 251.5 93.0 253.1C92.7 254.7 92.4 256.3 92.1 257.9C91.8 259.6 91.5 261.2 91.3 262.8C91.0 264.4 90.7 266.1 90.5 267.7C90.2 269.3 89.9 270.9 89.7 272.6C89.4 274.2 89.2 275.8 88.9 277.4C88.7 279.1 88.5 280.7 88.3 282.3C88.0 284.0 87.8 285.6 87.6 287.2C87.4 288.8 87.2 290.5 86.9 292.1C86.7 293.7 86.5 295.4 86.3 297.0C86.1 298.6 85.9 300.3 85.8 301.9C85.6 303.6 85.4 305.2 85.2 306.8C85.0 308.5 84.9 310.1 84.7 311.7C84.5 313.4 84.3 315.0 84.2 316.6C84.0 318.3 83.8 319.9 83.7 321.6C83.5 323.2 83.4 324.8 83.2 326.5C83.1 328.1 82.9 329.8 82.8 331.4C82.6 333.0 82.5 334.7 82.4 336.3C82.2 337.9 82.1 339.6 81.9 341.2C81.8 342.9 81.7 344.5 81.6 346.2C81.4 347.8 81.3 349.4 81.2 351.1C81.1 352.7 80.9 354.4 80.8 356.0M68.3 35.6C69.6 36.5 70.8 37.5 72.2 38.2C73.7 39.0 75.3 39.5 76.8 40.1C78.4 40.7 79.9 41.3 81.5 41.9C83.0 42.4 84.6 43.0 86.2 43.5C87.7 44.1 89.3 44.6 90.9 45.2C92.4 45.7 94.0 46.3 95.6 46.8C97.1 47.3 98.7 47.9 100.3 48.4C101.8 49.0 103.4 49.5 105.0 50.1C106.5 50.6 108.1 51.2 109.6 51.8C111.2 52.3 112.8 52.9 114.3 53.5C115.9 54.1 117.4 54.7 119.0 55.3C120.5 55.9 122.0 56.5 123.6 57.1C125.1 57.8 126.6 58.4 128.1 59.1C129.6 59.8 131.2 60.5 132.6 61.2C134.1 61.9 135.6 62.6 137.1 63.4C138.6 64.2 140.0 65.0 141.4 65.8C142.9 66.7 144.3 67.6 145.6 68.5C147.0 69.5 148.3 70.4 149.6 71.5C150.9 72.6 152.1 73.7 153.2 74.9C154.3 76.1 155.4 77.4 156.3 78.8C157.2 80.2 158.0 81.7 158.5 83.2C159.1 84.8 159.5 86.4 159.6 88.1C159.8 89.7 159.8 91.4 159.6 93.0C159.4 94.7 159.0 96.3 158.6 97.9C158.2 99.5 157.6 101.1 157.0 102.6C156.4 104.1 155.7 105.6 154.9 107.1C154.2 108.6 153.4 110.1 152.6 111.5C151.8 113.0 151.0 114.4 150.2 115.9C149.3 117.3 148.5 118.7 147.6 120.1C146.7 121.5 145.8 122.9 145.0 124.3C144.1 125.7 143.2 127.1 142.3 128.5C141.4 129.9 140.5 131.3 139.6 132.7C138.7 134.1 137.8 135.5 137.0 136.9C136.1 138.3 135.2 139.7 134.4 141.2C133.5 142.6 132.6 144.0 131.8 145.4C130.9 146.8 130.1 148.3 129.3 149.7C128.4 151.1 127.6 152.6 126.8 154.0C126.0 155.5 125.2 156.9 124.4 158.4C123.7 159.9 122.9 161.3 122.1 162.8C121.4 164.3 120.6 165.8 119.9 167.3C119.2 168.7 118.5 170.2 117.8 171.7C117.1 173.2 116.4 174.8 115.7 176.3C115.0 177.8 114.4 179.3 113.7 180.8C113.1 182.4 112.4 183.9 111.8 185.4C111.2 187.0 110.6 188.5 110.0 190.1C109.4 191.6 108.8 193.2 108.3 194.7C107.7 196.3 107.2 197.8 106.6 199.4C106.1 201.0 105.6 202.6 105.0 204.1C104.5 205.7 104.0 207.3 103.5 208.9C103.1 210.5 102.6 212.0 102.1 213.6C101.7 215.2 101.2 216.8 100.8 218.4C100.3 220.0 99.9 221.6 99.5 223.2C99.1 224.8 98.6 226.4 98.2 228.0C97.8 229.7 97.5 231.3 97.1 232.9C96.7 234.5 96.3 236.1 96.0 237.7C95.6 239.3 95.3 241.0 94.9 242.6C94.6 244.2 94.2 245.8 93.9 247.5C93.6 249.1 93.3 250.7 93.0 252.3C92.7 254.0 92.4 255.6 92.1 257.2C91.8 258.9 91.5 260.5 91.2 262.1C90.9 263.8 90.7 265.4 90.4 267.0C90.1 268.7 89.9 270.3 89.6 271.9C89.4 273.6 89.1 275.2 88.9 276.9C88.6 278.5 88.4 280.1 88.2 281.8C87.9 283.4 87.7 285.1 87.5 286.7C87.3 288.4 87.1 290.0 86.8 291.6C86.6 293.3 86.4 294.9 86.2 296.6C86.0 298.2 85.8 299.9 85.7 301.5C85.5 303.2 85.3 304.8 85.1 306.5C84.9 308.1 84.7 309.8 84.6 311.4C84.4 313.1 84.2 314.7 84.1 316.4C83.9 318.0 83.7 319.7 83.6 321.3C83.4 323.0 83.3 324.6 83.1 326.3C83.0 327.9 82.8 329.6 82.7 331.2C82.5 332.9 82.4 334.5 82.2 336.2C82.1 337.8 82.0 339.5 81.8 341.1C81.7 342.8 81.6 344.4 81.4 346.1C81.3 347.7 81.2 349.4 81.1 351.0C80.9 352.7 80.8 354.3 80.7 356.0M68.3 35.6C69.9 36.1 71.5 36.5 73.1 37.0C74.7 37.5 76.3 37.9 77.9 38.4C79.5 38.9 81.1 39.4 82.7 39.8C84.3 40.3 85.8 40.8 87.4 41.3C89.0 41.7 90.6 42.2 92.2 42.7C93.8 43.2 95.4 43.7 97.0 44.2C98.5 44.7 100.1 45.2 101.7 45.7C103.3 46.2 104.9 46.7 106.4 47.2C108.0 47.8 109.6 48.3 111.2 48.8C112.7 49.4 114.3 49.9 115.9 50.5C117.4 51.0 119.0 51.6 120.5 52.2C122.1 52.8 123.7 53.4 125.2 54.0C126.7 54.6 128.3 55.2 129.8 55.9C131.3 56.5 132.9 57.2 134.4 57.9C135.9 58.6 137.4 59.3 138.9 60.0C140.3 60.8 141.8 61.6 143.3 62.4C144.7 63.2 146.1 64.0 147.5 64.9C148.9 65.8 150.3 66.8 151.6 67.8C152.9 68.8 154.2 69.9 155.4 71.1C156.5 72.2 157.7 73.5 158.6 74.8C159.6 76.2 160.5 77.6 161.1 79.1C161.8 80.6 162.2 82.3 162.5 83.9C162.7 85.5 162.8 87.2 162.6 88.9C162.5 90.5 162.2 92.2 161.7 93.8C161.3 95.4 160.7 96.9 160.1 98.5C159.5 100.0 158.8 101.5 158.1 103.0C157.3 104.5 156.5 106.0 155.7 107.4C154.9 108.8 154.0 110.3 153.1 111.7C152.3 113.1 151.4 114.5 150.5 115.9C149.6 117.3 148.7 118.7 147.8 120.1C146.8 121.4 145.9 122.8 145.0 124.2C144.1 125.6 143.1 127.0 142.2 128.3C141.3 129.7 140.4 131.1 139.5 132.5C138.6 133.9 137.6 135.3 136.7 136.7C135.8 138.1 134.9 139.5 134.1 140.9C133.2 142.3 132.3 143.7 131.4 145.1C130.6 146.5 129.7 147.9 128.9 149.4C128.0 150.8 127.2 152.2 126.4 153.7C125.6 155.1 124.8 156.6 124.0 158.0C123.2 159.5 122.4 161.0 121.6 162.4C120.9 163.9 120.1 165.4 119.4 166.9C118.7 168.4 117.9 169.9 117.2 171.4C116.5 172.9 115.8 174.4 115.2 175.9C114.5 177.4 113.8 178.9 113.2 180.5C112.5 182.0 111.9 183.5 111.3 185.1C110.6 186.6 110.0 188.2 109.4 189.7C108.8 191.3 108.3 192.8 107.7 194.4C107.1 195.9 106.6 197.5 106.1 199.1C105.5 200.7 105.0 202.2 104.5 203.8C104.0 205.4 103.5 207.0 103.0 208.6C102.5 210.2 102.0 211.7 101.6 213.3C101.1 214.9 100.7 216.5 100.2 218.1C99.8 219.7 99.3 221.3 98.9 223.0C98.5 224.6 98.1 226.2 97.7 227.8C97.3 229.4 96.9 231.0 96.6 232.6C96.2 234.2 95.8 235.9 95.5 237.5C95.1 239.1 94.8 240.7 94.4 242.4C94.1 244.0 93.7 245.6 93.4 247.2C93.1 248.9 92.8 250.5 92.5 252.1C92.2 253.8 91.9 255.4 91.6 257.0C91.3 258.7 91.0 260.3 90.7 261.9C90.5 263.6 90.2 265.2 89.9 266.9C89.7 268.5 89.4 270.1 89.2 271.8C88.9 273.4 88.7 275.1 88.4 276.7C88.2 278.4 88.0 280.0 87.7 281.6C87.5 283.3 87.3 284.9 87.1 286.6C86.9 288.2 86.7 289.9 86.4 291.5C86.2 293.2 86.0 294.8 85.8 296.5C85.6 298.1 85.5 299.8 85.3 301.4C85.1 303.1 84.9 304.7 84.7 306.4C84.5 308.0 84.4 309.7 84.2 311.3C84.0 313.0 83.9 314.6 83.7 316.3C83.5 317.9 83.4 319.6 83.2 321.2C83.1 322.9 82.9 324.5 82.8 326.2C82.6 327.9 82.5 329.5 82.3 331.2C82.2 332.8 82.0 334.5 81.9 336.1C81.8 337.8 81.6 339.4 81.5 341.1C81.4 342.8 81.3 344.4 81.1 346.1C81.0 347.7 80.9 349.4 80.8 351.0C80.6 352.7 80.5 354.3 80.4 356.0" stroke="#0a0a0a" stroke-width="1.12" fill="none" stroke-linejoin="round"/>
<path d="M218.26 35.60V356.00M229.68 35.60V356.00M241.09 35.60V356.00M252.50 35.60V356.00M263.91 35.60V356.00M275.32 35.60V356.00M286.74 35.60V356.00M298.15 35.60V356.00M309.56 35.60V356.00M320.98 35.60V356.00M332.39 35.60V356.00M206.85 35.60H343.80M206.85 67.64H343.80M206.85 99.68H343.80M206.85 131.72H343.80M206.85 163.76H343.80M206.85 195.80H343.80M206.85 227.84H343.80M206.85 259.88H343.80M206.85 291.92H343.80M206.85 323.96H343.80M206.85 356.00H343.80" stroke="#d9d9d9" stroke-width="0.9" fill="none"/>
<path d="M206.85 35.60V356.00M343.80 35.60V356.00M343.80 35.60h2.8M343.80 67.64h2.8M343.80 99.68h2.8M343.80 131.72h2.8M343.80 163.76h2.8M343.80 195.80h2.8M343.80 227.84h2.8M343.80 259.88h2.8M343.80 291.92h2.8M343.80 323.96h2.8M343.80 356.00h2.8" stroke="#bfbfbf" stroke-width="0.9" fill="none"/>
<path d="M206.85 35.60h-1.6M206.85 67.64h-1.6M206.85 99.68h-1.6M206.85 131.72h-1.6M206.85 163.76h-1.6M206.85 195.80h-1.6M206.85 227.84h-1.6M206.85 259.88h-1.6M206.85 291.92h-1.6M206.85 323.96h-1.6M206.85 356.00h-1.6" stroke="#d4d4d4" stroke-width="0.9" fill="none"/>
<text x="275.3" y="16.5" class="t">I<tspan class="ts" dx="0.4">z</tspan></text>
<text transform="translate(206.85 26.7) scale(.91 1)" class="xl">-0.04</text>
<text transform="translate(229.68 26.7) scale(.91 1)" class="xl">-0.02</text>
<text transform="translate(252.50 26.7) scale(.91 1)" class="xl">0</text>
<text transform="translate(275.32 26.7) scale(.91 1)" class="xl">0.02</text>
<text transform="translate(298.15 26.7) scale(.91 1)" class="xl">0.04</text>
<text transform="translate(320.98 26.7) scale(.91 1)" class="xl">0.06</text>
<text transform="translate(343.80 26.7) scale(.91 1)" class="xl">0.08</text>
<text x="202.35" y="38.20" class="yl">0</text>
<text x="202.35" y="70.54" class="yl b">0.5</text>
<text x="202.35" y="102.58" class="yl b">1</text>
<text x="202.35" y="134.62" class="yl b">1.5</text>
<text x="202.35" y="166.66" class="yl b">2</text>
<text x="202.35" y="198.70" class="yl b">2.5</text>
<text x="202.35" y="230.74" class="yl b">3</text>
<text x="202.35" y="262.78" class="yl b">3.5</text>
<text x="202.35" y="294.82" class="yl b">4</text>
<text x="202.35" y="326.86" class="yl b">4.5</text>
<text x="202.35" y="358.90" class="yl b">5</text>
<text transform="translate(348.80 38.90) scale(.9 1)" class="yr">0</text>
<text transform="translate(348.80 70.94) scale(.9 1)" class="yr">0.25</text>
<text transform="translate(348.80 102.98) scale(.9 1)" class="yr">0.5</text>
<text transform="translate(348.80 135.02) scale(.9 1)" class="yr">0.75</text>
<text transform="translate(348.80 167.06) scale(.9 1)" class="yr">1</text>
<text transform="translate(348.80 199.10) scale(.9 1)" class="yr">1.25</text>
<text transform="translate(348.80 231.14) scale(.9 1)" class="yr">1.5</text>
<text transform="translate(348.80 263.18) scale(.9 1)" class="yr">1.75</text>
<text transform="translate(348.80 295.22) scale(.9 1)" class="yr">2</text>
<text transform="translate(348.80 327.26) scale(.9 1)" class="yr">2.25</text>
<text transform="translate(348.80 359.30) scale(.9 1)" class="yr">2.5</text>
<text x="201.25" y="345.3" class="zb" text-anchor="end">z/B</text>
<text x="349.20" y="344.9" class="zb zr">z/B</text>
<text x="231.10" y="143.30" class="an">(b)</text>
<text x="231.10" y="154.95" class="an">Triangular</text>
<text x="231.10" y="166.30" class="an">Point "Q"</text>
<text x="231.10" y="177.65" class="an">L/B=2</text>
<path d="M252.5 35.6C250.8 35.8 249.2 35.9 247.5 36.1C245.9 36.3 244.2 36.6 242.6 36.9C241.0 37.2 239.3 37.6 237.7 38.0C236.1 38.4 234.5 38.8 232.9 39.3C231.3 39.8 229.7 40.4 228.2 41.0C226.7 41.7 225.2 42.4 223.8 43.3C222.4 44.1 220.9 45.1 219.8 46.3C218.7 47.5 217.7 49.0 217.2 50.5C216.7 52.0 216.7 53.8 216.9 55.4C217.1 57.1 217.9 58.6 218.6 60.1C219.3 61.6 220.3 63.0 221.3 64.3C222.2 65.7 223.3 67.0 224.4 68.2C225.5 69.5 226.7 70.7 227.8 71.9C229.0 73.1 230.2 74.2 231.4 75.4C232.6 76.5 233.8 77.6 235.1 78.7C236.3 79.9 237.5 81.0 238.8 82.1C240.0 83.2 241.3 84.3 242.6 85.4C243.8 86.5 245.1 87.6 246.3 88.6C247.6 89.7 248.8 90.8 250.1 91.9C251.3 93.0 252.6 94.1 253.8 95.2C255.1 96.3 256.3 97.5 257.5 98.6C258.8 99.7 260.0 100.8 261.2 102.0C262.4 103.1 263.6 104.2 264.8 105.4C266.0 106.6 267.2 107.7 268.4 108.9C269.6 110.1 270.7 111.3 271.9 112.5C273.0 113.7 274.2 114.9 275.3 116.2C276.4 117.4 277.5 118.6 278.6 119.9C279.7 121.2 280.7 122.4 281.8 123.7C282.8 125.0 283.9 126.4 284.9 127.7C285.9 129.0 286.8 130.4 287.8 131.7C288.7 133.1 289.7 134.5 290.6 135.9C291.5 137.3 292.3 138.7 293.2 140.1C294.0 141.6 294.9 143.0 295.6 144.5C296.4 146.0 297.2 147.4 297.9 148.9C298.6 150.4 299.3 151.9 300.0 153.5C300.7 155.0 301.3 156.5 301.9 158.1C302.5 159.6 303.1 161.2 303.6 162.8C304.1 164.4 304.6 166.0 305.1 167.6C305.6 169.1 306.0 170.8 306.4 172.4C306.9 174.0 307.2 175.6 307.6 177.2C308.0 178.9 308.3 180.5 308.6 182.1C308.9 183.8 309.1 185.4 309.4 187.1C309.6 188.7 309.9 190.4 310.0 192.0C310.2 193.7 310.4 195.3 310.6 197.0C310.7 198.6 310.8 200.3 311.0 202.0C311.1 203.6 311.2 205.3 311.2 207.0C311.3 208.6 311.3 210.3 311.4 211.9C311.4 213.6 311.4 215.3 311.4 216.9C311.4 218.6 311.4 220.3 311.4 221.9C311.4 223.6 311.3 225.3 311.3 226.9C311.3 228.6 311.2 230.3 311.1 231.9C311.0 233.6 311.0 235.3 310.9 236.9C310.8 238.6 310.7 240.2 310.6 241.9C310.4 243.6 310.3 245.2 310.2 246.9C310.1 248.5 309.9 250.2 309.8 251.9C309.7 253.5 309.5 255.2 309.4 256.8C309.2 258.5 309.0 260.2 308.9 261.8C308.7 263.5 308.5 265.1 308.4 266.8C308.2 268.4 308.0 270.1 307.8 271.8C307.6 273.4 307.4 275.1 307.3 276.7C307.1 278.4 306.9 280.0 306.7 281.7C306.5 283.3 306.3 285.0 306.1 286.6C305.9 288.3 305.7 289.9 305.5 291.6C305.3 293.3 305.0 294.9 304.8 296.6C304.6 298.2 304.4 299.9 304.2 301.5C304.0 303.2 303.8 304.8 303.6 306.5C303.3 308.1 303.1 309.8 302.9 311.4C302.7 313.1 302.5 314.7 302.3 316.4C302.0 318.0 301.8 319.7 301.6 321.3C301.4 323.0 301.2 324.6 300.9 326.3C300.7 327.9 300.5 329.6 300.3 331.2C300.1 332.9 299.8 334.5 299.6 336.2C299.4 337.8 299.2 339.5 299.0 341.1C298.7 342.8 298.5 344.4 298.3 346.1C298.1 347.7 297.9 349.4 297.7 351.0C297.4 352.7 297.2 354.3 297.0 356.0M252.5 35.6C250.9 35.9 249.2 36.1 247.6 36.4C246.0 36.8 244.4 37.2 242.9 37.8C241.4 38.4 239.8 39.0 238.4 39.8C237.0 40.6 235.5 41.6 234.5 42.8C233.4 44.0 232.5 45.5 232.1 47.1C231.7 48.6 231.9 50.4 232.2 51.9C232.6 53.5 233.4 55.0 234.2 56.5C234.9 57.9 235.9 59.3 236.9 60.6C237.9 61.9 239.0 63.1 240.1 64.4C241.1 65.6 242.3 66.8 243.4 68.0C244.6 69.2 245.8 70.3 246.9 71.4C248.1 72.6 249.3 73.7 250.5 74.8C251.8 76.0 253.0 77.1 254.2 78.2C255.4 79.3 256.6 80.4 257.9 81.5C259.1 82.6 260.3 83.7 261.5 84.8C262.7 85.9 264.0 87.0 265.2 88.1C266.4 89.2 267.6 90.3 268.8 91.4C270.0 92.6 271.2 93.7 272.4 94.8C273.6 96.0 274.8 97.1 276.0 98.3C277.1 99.4 278.3 100.6 279.4 101.8C280.6 102.9 281.7 104.1 282.9 105.3C284.0 106.5 285.1 107.7 286.2 109.0C287.3 110.2 288.4 111.4 289.4 112.7C290.5 114.0 291.5 115.2 292.5 116.5C293.5 117.8 294.5 119.1 295.5 120.5C296.5 121.8 297.4 123.1 298.4 124.5C299.3 125.9 300.2 127.2 301.1 128.6C301.9 130.0 302.8 131.5 303.6 132.9C304.4 134.3 305.2 135.8 305.9 137.2C306.7 138.7 307.4 140.2 308.1 141.7C308.8 143.2 309.4 144.7 310.1 146.2C310.7 147.7 311.3 149.3 311.8 150.8C312.4 152.4 312.9 153.9 313.4 155.5C313.9 157.1 314.3 158.7 314.7 160.2C315.2 161.8 315.6 163.4 315.9 165.0C316.3 166.6 316.6 168.3 316.9 169.9C317.2 171.5 317.5 173.1 317.7 174.7C317.9 176.4 318.2 178.0 318.3 179.6C318.5 181.3 318.7 182.9 318.8 184.6C319.0 186.2 319.1 187.8 319.2 189.5C319.3 191.1 319.3 192.8 319.4 194.4C319.4 196.1 319.5 197.7 319.5 199.4C319.5 201.0 319.5 202.6 319.5 204.3C319.4 205.9 319.4 207.6 319.3 209.2C319.3 210.9 319.2 212.5 319.1 214.2C319.1 215.8 319.0 217.4 318.9 219.1C318.7 220.7 318.6 222.4 318.5 224.0C318.4 225.7 318.2 227.3 318.1 228.9C317.9 230.6 317.8 232.2 317.6 233.9C317.5 235.5 317.3 237.1 317.1 238.8C316.9 240.4 316.7 242.0 316.5 243.7C316.3 245.3 316.1 246.9 315.9 248.6C315.7 250.2 315.5 251.8 315.3 253.5C315.1 255.1 314.9 256.7 314.7 258.4C314.4 260.0 314.2 261.6 314.0 263.3C313.8 264.9 313.5 266.5 313.3 268.1C313.0 269.8 312.8 271.4 312.6 273.0C312.3 274.7 312.1 276.3 311.8 277.9C311.6 279.5 311.3 281.2 311.1 282.8C310.8 284.4 310.6 286.1 310.3 287.7C310.1 289.3 309.8 290.9 309.6 292.6C309.3 294.2 309.1 295.8 308.8 297.4C308.6 299.1 308.3 300.7 308.1 302.3C307.8 303.9 307.6 305.6 307.3 307.2C307.0 308.8 306.8 310.4 306.5 312.1C306.3 313.7 306.0 315.3 305.8 316.9C305.5 318.6 305.3 320.2 305.0 321.8C304.8 323.5 304.5 325.1 304.2 326.7C304.0 328.3 303.7 330.0 303.5 331.6C303.2 333.2 303.0 334.8 302.7 336.5C302.5 338.1 302.2 339.7 302.0 341.3C301.7 343.0 301.5 344.6 301.3 346.2C301.0 347.9 300.8 349.5 300.5 351.1C300.3 352.7 300.0 354.4 299.8 356.0M252.5 35.6C250.9 36.1 249.2 36.4 247.8 37.2C246.4 38.0 245.0 39.1 244.2 40.4C243.4 41.8 243.1 43.6 243.2 45.2C243.2 46.8 244.0 48.4 244.7 49.9C245.3 51.4 246.3 52.8 247.3 54.1C248.2 55.4 249.3 56.7 250.3 58.0C251.4 59.2 252.6 60.4 253.7 61.6C254.8 62.8 256.0 64.0 257.2 65.1C258.4 66.3 259.6 67.4 260.8 68.5C262.0 69.7 263.2 70.8 264.4 71.9C265.6 73.0 266.9 74.1 268.1 75.2C269.3 76.4 270.5 77.5 271.7 78.6C273.0 79.7 274.2 80.8 275.4 81.9C276.6 83.0 277.8 84.2 279.0 85.3C280.2 86.4 281.4 87.6 282.6 88.7C283.8 89.9 285.0 91.0 286.1 92.2C287.3 93.4 288.5 94.5 289.6 95.7C290.8 96.9 291.9 98.1 293.0 99.3C294.1 100.6 295.2 101.8 296.3 103.0C297.4 104.3 298.4 105.5 299.5 106.8C300.5 108.1 301.6 109.4 302.6 110.7C303.6 112.0 304.5 113.3 305.5 114.7C306.4 116.0 307.4 117.4 308.3 118.8C309.2 120.2 310.0 121.6 310.9 123.0C311.7 124.4 312.5 125.9 313.3 127.3C314.1 128.8 314.8 130.3 315.6 131.7C316.3 133.2 316.9 134.7 317.6 136.3C318.2 137.8 318.8 139.3 319.4 140.9C320.0 142.4 320.5 144.0 321.0 145.6C321.5 147.1 322.0 148.7 322.4 150.3C322.8 151.9 323.2 153.5 323.6 155.1C323.9 156.7 324.3 158.4 324.5 160.0C324.8 161.6 325.1 163.2 325.3 164.9C325.5 166.5 325.7 168.1 325.9 169.8C326.1 171.4 326.2 173.1 326.3 174.7C326.5 176.4 326.5 178.0 326.6 179.7C326.7 181.3 326.7 183.0 326.7 184.6C326.7 186.3 326.7 187.9 326.7 189.6C326.7 191.2 326.7 192.9 326.6 194.5C326.5 196.2 326.5 197.8 326.4 199.5C326.3 201.1 326.2 202.8 326.1 204.4C325.9 206.1 325.8 207.7 325.6 209.4C325.5 211.0 325.3 212.6 325.2 214.3C325.0 215.9 324.8 217.6 324.6 219.2C324.4 220.8 324.2 222.5 324.0 224.1C323.8 225.8 323.6 227.4 323.4 229.0C323.2 230.7 322.9 232.3 322.7 233.9C322.5 235.6 322.2 237.2 322.0 238.8C321.7 240.5 321.5 242.1 321.2 243.7C321.0 245.4 320.7 247.0 320.4 248.6C320.2 250.3 319.9 251.9 319.6 253.5C319.3 255.1 319.1 256.8 318.8 258.4C318.5 260.0 318.2 261.7 318.0 263.3C317.7 264.9 317.4 266.5 317.1 268.2C316.8 269.8 316.5 271.4 316.2 273.0C315.9 274.7 315.7 276.3 315.4 277.9C315.1 279.5 314.8 281.2 314.5 282.8C314.2 284.4 313.9 286.0 313.6 287.7C313.3 289.3 313.0 290.9 312.7 292.5C312.4 294.2 312.1 295.8 311.9 297.4C311.6 299.0 311.3 300.7 311.0 302.3C310.7 303.9 310.4 305.5 310.1 307.2C309.8 308.8 309.5 310.4 309.2 312.0C309.0 313.7 308.7 315.3 308.4 316.9C308.1 318.6 307.8 320.2 307.5 321.8C307.2 323.4 307.0 325.1 306.7 326.7C306.4 328.3 306.1 329.9 305.8 331.6C305.6 333.2 305.3 334.8 305.0 336.5C304.7 338.1 304.5 339.7 304.2 341.3C303.9 343.0 303.6 344.6 303.4 346.2C303.1 347.9 302.8 349.5 302.6 351.1C302.3 352.7 302.0 354.4 301.8 356.0M252.5 35.6C251.7 36.9 250.2 38.1 250.0 39.5C249.8 40.9 250.8 42.7 251.6 44.2C252.3 45.6 253.3 47.0 254.4 48.3C255.4 49.6 256.5 50.8 257.6 52.1C258.7 53.3 259.9 54.5 261.1 55.6C262.2 56.8 263.4 57.9 264.7 59.1C265.9 60.2 267.1 61.3 268.3 62.5C269.5 63.6 270.8 64.7 272.0 65.8C273.2 66.9 274.5 68.0 275.7 69.1C277.0 70.2 278.2 71.3 279.4 72.4C280.7 73.5 281.9 74.6 283.1 75.8C284.4 76.9 285.6 78.0 286.8 79.1C288.0 80.3 289.2 81.4 290.4 82.6C291.6 83.7 292.8 84.9 294.0 86.0C295.2 87.2 296.3 88.4 297.5 89.6C298.6 90.8 299.8 92.0 300.9 93.2C302.0 94.4 303.1 95.7 304.2 96.9C305.3 98.2 306.4 99.5 307.4 100.7C308.4 102.0 309.5 103.3 310.5 104.7C311.5 106.0 312.4 107.3 313.4 108.7C314.3 110.1 315.3 111.4 316.1 112.8C317.0 114.2 317.9 115.7 318.7 117.1C319.5 118.5 320.3 120.0 321.1 121.5C321.9 123.0 322.6 124.5 323.3 126.0C324.0 127.5 324.6 129.0 325.2 130.5C325.8 132.1 326.4 133.6 326.9 135.2C327.5 136.8 328.0 138.4 328.4 140.0C328.9 141.6 329.3 143.2 329.7 144.8C330.1 146.4 330.4 148.0 330.7 149.7C331.0 151.3 331.3 152.9 331.5 154.6C331.8 156.2 332.0 157.9 332.2 159.5C332.3 161.2 332.5 162.8 332.6 164.5C332.7 166.1 332.8 167.8 332.8 169.4C332.9 171.1 332.9 172.8 332.9 174.4C332.9 176.1 332.9 177.7 332.9 179.4C332.8 181.1 332.8 182.7 332.7 184.4C332.6 186.0 332.5 187.7 332.4 189.3C332.3 191.0 332.1 192.7 332.0 194.3C331.8 196.0 331.7 197.6 331.5 199.3C331.3 200.9 331.1 202.6 330.9 204.2C330.7 205.9 330.5 207.5 330.3 209.2C330.1 210.8 329.8 212.4 329.6 214.1C329.3 215.7 329.1 217.4 328.8 219.0C328.6 220.6 328.3 222.3 328.0 223.9C327.8 225.6 327.5 227.2 327.2 228.8C326.9 230.5 326.6 232.1 326.3 233.7C326.0 235.4 325.7 237.0 325.4 238.6C325.1 240.3 324.8 241.9 324.5 243.5C324.2 245.2 323.9 246.8 323.6 248.4C323.3 250.0 322.9 251.7 322.6 253.3C322.3 254.9 322.0 256.6 321.7 258.2C321.3 259.8 321.0 261.4 320.7 263.1C320.4 264.7 320.0 266.3 319.7 268.0C319.4 269.6 319.0 271.2 318.7 272.8C318.4 274.5 318.1 276.1 317.7 277.7C317.4 279.3 317.1 281.0 316.8 282.6C316.4 284.2 316.1 285.9 315.8 287.5C315.4 289.1 315.1 290.7 314.8 292.4C314.5 294.0 314.1 295.6 313.8 297.2C313.5 298.9 313.2 300.5 312.9 302.1C312.5 303.8 312.2 305.4 311.9 307.0C311.6 308.7 311.3 310.3 311.0 311.9C310.6 313.5 310.3 315.2 310.0 316.8C309.7 318.4 309.4 320.1 309.1 321.7C308.8 323.3 308.5 325.0 308.2 326.6C307.9 328.2 307.6 329.9 307.3 331.5C307.0 333.1 306.7 334.7 306.4 336.4C306.1 338.0 305.8 339.6 305.5 341.3C305.2 342.9 304.9 344.6 304.6 346.2C304.3 347.8 304.1 349.5 303.8 351.1C303.5 352.7 303.2 354.4 302.9 356.0M252.5 35.6C253.2 37.0 253.8 38.5 254.7 39.9C255.6 41.2 256.9 42.3 258.0 43.5C259.2 44.7 260.4 45.8 261.6 46.9C262.8 48.0 264.0 49.1 265.3 50.2C266.5 51.3 267.8 52.3 269.0 53.4C270.3 54.5 271.5 55.5 272.8 56.6C274.1 57.7 275.3 58.7 276.6 59.8C277.8 60.8 279.1 61.9 280.4 62.9C281.6 64.0 282.9 65.1 284.1 66.1C285.4 67.2 286.6 68.3 287.9 69.4C289.1 70.5 290.3 71.6 291.6 72.7C292.8 73.8 294.0 74.9 295.2 76.0C296.4 77.1 297.6 78.2 298.8 79.4C300.0 80.5 301.2 81.7 302.3 82.8C303.5 84.0 304.6 85.2 305.8 86.4C306.9 87.6 308.0 88.8 309.1 90.0C310.2 91.3 311.3 92.5 312.3 93.8C313.4 95.0 314.4 96.3 315.4 97.6C316.4 98.9 317.4 100.2 318.4 101.6C319.3 102.9 320.3 104.3 321.2 105.7C322.1 107.0 322.9 108.4 323.8 109.9C324.6 111.3 325.4 112.7 326.2 114.2C326.9 115.6 327.7 117.1 328.4 118.6C329.1 120.1 329.7 121.6 330.3 123.1C330.9 124.7 331.5 126.2 332.1 127.8C332.6 129.3 333.1 130.9 333.5 132.5C334.0 134.0 334.4 135.6 334.8 137.2C335.2 138.8 335.5 140.5 335.8 142.1C336.1 143.7 336.4 145.3 336.6 147.0C336.8 148.6 337.0 150.2 337.2 151.9C337.3 153.5 337.4 155.1 337.5 156.8C337.6 158.4 337.7 160.1 337.7 161.7C337.8 163.4 337.8 165.0 337.7 166.7C337.7 168.3 337.7 170.0 337.6 171.6C337.6 173.2 337.5 174.9 337.4 176.5C337.3 178.2 337.1 179.8 337.0 181.5C336.8 183.1 336.7 184.7 336.5 186.4C336.3 188.0 336.1 189.6 335.9 191.3C335.7 192.9 335.5 194.5 335.3 196.2C335.0 197.8 334.8 199.4 334.5 201.1C334.3 202.7 334.0 204.3 333.7 205.9C333.5 207.6 333.2 209.2 332.9 210.8C332.6 212.4 332.3 214.1 332.0 215.7C331.7 217.3 331.4 218.9 331.1 220.5C330.8 222.1 330.5 223.8 330.1 225.4C329.8 227.0 329.5 228.6 329.2 230.2C328.8 231.8 328.5 233.4 328.1 235.0C327.8 236.7 327.5 238.3 327.1 239.9C326.8 241.5 326.4 243.1 326.1 244.7C325.7 246.3 325.4 247.9 325.0 249.5C324.7 251.1 324.3 252.8 324.0 254.4C323.6 256.0 323.3 257.6 322.9 259.2C322.6 260.8 322.2 262.4 321.9 264.0C321.5 265.6 321.2 267.2 320.8 268.8C320.5 270.4 320.1 272.1 319.8 273.7C319.4 275.3 319.1 276.9 318.7 278.5C318.4 280.1 318.0 281.7 317.7 283.3C317.3 284.9 317.0 286.5 316.6 288.1C316.3 289.8 315.9 291.4 315.6 293.0C315.2 294.6 314.9 296.2 314.6 297.8C314.2 299.4 313.9 301.0 313.6 302.6C313.2 304.3 312.9 305.9 312.6 307.5C312.2 309.1 311.9 310.7 311.6 312.3C311.2 313.9 310.9 315.6 310.6 317.2C310.3 318.8 309.9 320.4 309.6 322.0C309.3 323.6 309.0 325.2 308.7 326.9C308.4 328.5 308.0 330.1 307.7 331.7C307.4 333.3 307.1 334.9 306.8 336.6C306.5 338.2 306.2 339.8 305.9 341.4C305.6 343.0 305.3 344.7 305.0 346.3C304.7 347.9 304.4 349.5 304.1 351.1C303.8 352.8 303.5 354.4 303.2 356.0M252.5 35.6C253.8 36.5 255.2 37.5 256.5 38.4C257.9 39.4 259.2 40.3 260.6 41.3C261.9 42.3 263.2 43.2 264.6 44.2C265.9 45.1 267.3 46.1 268.6 47.1C269.9 48.0 271.3 49.0 272.6 50.0C273.9 50.9 275.2 51.9 276.6 52.9C277.9 53.9 279.2 54.9 280.5 55.9C281.8 56.9 283.1 57.9 284.4 58.9C285.7 59.9 287.0 60.9 288.3 61.9C289.6 63.0 290.9 64.0 292.1 65.1C293.4 66.1 294.6 67.2 295.9 68.2C297.1 69.3 298.4 70.4 299.6 71.5C300.8 72.6 302.0 73.7 303.2 74.8C304.4 76.0 305.6 77.1 306.8 78.3C308.0 79.4 309.1 80.6 310.3 81.8C311.4 83.0 312.5 84.2 313.6 85.4C314.7 86.6 315.8 87.9 316.9 89.1C317.9 90.4 319.0 91.7 320.0 93.0C321.0 94.3 321.9 95.6 322.9 97.0C323.8 98.3 324.8 99.7 325.6 101.1C326.5 102.4 327.4 103.9 328.2 105.3C329.0 106.7 329.8 108.2 330.6 109.6C331.3 111.1 332.0 112.6 332.7 114.1C333.4 115.6 334.0 117.1 334.6 118.6C335.2 120.2 335.7 121.7 336.2 123.3C336.7 124.9 337.2 126.5 337.6 128.0C338.0 129.6 338.4 131.2 338.7 132.9C339.0 134.5 339.3 136.1 339.6 137.7C339.9 139.3 340.1 141.0 340.3 142.6C340.4 144.2 340.6 145.9 340.7 147.5C340.8 149.2 340.9 150.8 340.9 152.5C341.0 154.1 341.0 155.8 341.0 157.4C341.0 159.0 340.9 160.7 340.9 162.3C340.8 164.0 340.7 165.6 340.6 167.3C340.5 168.9 340.4 170.6 340.2 172.2C340.1 173.8 339.9 175.5 339.7 177.1C339.5 178.7 339.3 180.4 339.1 182.0C338.9 183.6 338.7 185.3 338.4 186.9C338.2 188.5 337.9 190.1 337.6 191.8C337.4 193.4 337.1 195.0 336.8 196.6C336.5 198.3 336.2 199.9 335.9 201.5C335.6 203.1 335.3 204.7 335.0 206.3C334.6 208.0 334.3 209.6 334.0 211.2C333.6 212.8 333.3 214.4 333.0 216.0C332.6 217.6 332.3 219.2 331.9 220.8C331.6 222.5 331.2 224.1 330.8 225.7C330.5 227.3 330.1 228.9 329.8 230.5C329.4 232.1 329.0 233.7 328.7 235.3C328.3 236.9 327.9 238.5 327.5 240.1C327.2 241.7 326.8 243.3 326.4 244.9C326.1 246.5 325.7 248.1 325.3 249.7C324.9 251.3 324.6 252.9 324.2 254.5C323.8 256.1 323.4 257.7 323.1 259.3C322.7 261.0 322.3 262.6 321.9 264.2C321.6 265.8 321.2 267.4 320.8 269.0C320.5 270.6 320.1 272.2 319.7 273.8C319.4 275.4 319.0 277.0 318.6 278.6C318.3 280.2 317.9 281.8 317.5 283.4C317.2 285.0 316.8 286.6 316.4 288.2C316.1 289.8 315.7 291.4 315.4 293.1C315.0 294.7 314.7 296.3 314.3 297.9C314.0 299.5 313.6 301.1 313.3 302.7C312.9 304.3 312.6 305.9 312.2 307.5C311.9 309.1 311.6 310.8 311.2 312.4C310.9 314.0 310.6 315.6 310.2 317.2C309.9 318.8 309.6 320.4 309.2 322.0C308.9 323.7 308.6 325.3 308.3 326.9C307.9 328.5 307.6 330.1 307.3 331.7C307.0 333.3 306.7 335.0 306.4 336.6C306.0 338.2 305.7 339.8 305.4 341.4C305.1 343.0 304.8 344.7 304.5 346.3C304.2 347.9 303.9 349.5 303.6 351.1C303.3 352.8 303.0 354.4 302.7 356.0" stroke="#6a6a6a" stroke-width="1.0" fill="none" stroke-dasharray="2.8 2.5"/>
<path d="M252.5 35.6C250.9 35.7 249.2 35.8 247.6 35.9C245.9 36.0 244.3 36.1 242.6 36.3C241.0 36.4 239.4 36.6 237.7 36.8C236.1 37.0 234.5 37.2 232.8 37.5C231.2 37.7 229.6 38.0 228.0 38.4C226.4 38.7 224.8 39.1 223.2 39.6C221.7 40.1 219.7 40.5 218.7 41.6C217.7 42.6 216.8 44.5 217.0 45.7C217.2 47.1 219.1 48.3 220.3 49.3C221.6 50.4 223.1 51.1 224.5 52.0C225.9 52.8 227.4 53.5 228.9 54.2C230.3 55.0 231.8 55.7 233.3 56.4C234.8 57.1 236.3 57.7 237.8 58.4C239.3 59.1 240.8 59.7 242.3 60.4C243.9 61.1 245.4 61.7 246.9 62.4C248.4 63.0 249.9 63.7 251.4 64.3C252.9 65.0 254.4 65.7 255.9 66.4C257.4 67.0 258.9 67.7 260.4 68.4C261.9 69.1 263.4 69.8 264.9 70.5C266.3 71.2 267.8 72.0 269.3 72.7C270.8 73.5 272.2 74.2 273.7 75.0C275.1 75.8 276.6 76.6 278.0 77.4C279.4 78.2 280.8 79.1 282.2 79.9C283.6 80.8 285.0 81.7 286.3 82.7C287.7 83.6 289.0 84.6 290.3 85.6C291.6 86.6 292.9 87.6 294.2 88.7C295.4 89.8 296.6 90.9 297.7 92.1C298.9 93.3 300.0 94.5 301.0 95.8C302.1 97.0 303.1 98.4 304.0 99.7C304.9 101.1 305.7 102.5 306.5 104.0C307.2 105.5 307.9 107.0 308.4 108.5C309.0 110.1 309.5 111.6 309.9 113.2C310.3 114.8 310.6 116.5 310.9 118.1C311.1 119.7 311.2 121.4 311.3 123.0C311.4 124.6 311.5 126.3 311.4 127.9C311.4 129.6 311.3 131.2 311.2 132.9C311.1 134.5 310.9 136.1 310.7 137.8C310.5 139.4 310.2 141.0 310.0 142.7C309.7 144.3 309.4 145.9 309.1 147.5C308.8 149.1 308.5 150.8 308.1 152.4C307.8 154.0 307.4 155.6 307.0 157.2C306.6 158.8 306.3 160.4 305.9 162.0C305.5 163.6 305.1 165.2 304.7 166.8C304.2 168.4 303.8 170.0 303.4 171.6C303.0 173.1 302.6 174.7 302.2 176.3C301.7 177.9 301.3 179.5 300.9 181.1C300.5 182.7 300.0 184.3 299.6 185.9C299.2 187.5 298.8 189.1 298.4 190.7C297.9 192.2 297.5 193.8 297.1 195.4C296.7 197.0 296.3 198.6 295.9 200.2C295.5 201.8 295.1 203.4 294.7 205.0C294.3 206.6 293.9 208.2 293.5 209.8C293.1 211.4 292.7 213.0 292.3 214.6C291.9 216.2 291.5 217.8 291.2 219.4C290.8 221.0 290.4 222.6 290.0 224.2C289.7 225.8 289.3 227.4 289.0 229.0C288.6 230.6 288.3 232.3 287.9 233.9C287.6 235.5 287.2 237.1 286.9 238.7C286.6 240.3 286.2 241.9 285.9 243.5C285.6 245.1 285.3 246.8 284.9 248.4C284.6 250.0 284.3 251.6 284.0 253.2C283.7 254.8 283.4 256.5 283.1 258.1C282.8 259.7 282.5 261.3 282.2 262.9C282.0 264.6 281.7 266.2 281.4 267.8C281.1 269.4 280.8 271.1 280.6 272.7C280.3 274.3 280.1 275.9 279.8 277.6C279.5 279.2 279.3 280.8 279.0 282.4C278.8 284.1 278.5 285.7 278.3 287.3C278.1 289.0 277.8 290.6 277.6 292.2C277.4 293.8 277.1 295.5 276.9 297.1C276.7 298.7 276.5 300.4 276.2 302.0C276.0 303.6 275.8 305.3 275.6 306.9C275.4 308.5 275.2 310.2 275.0 311.8C274.8 313.4 274.6 315.1 274.4 316.7C274.2 318.3 274.0 320.0 273.8 321.6C273.6 323.2 273.4 324.9 273.3 326.5C273.1 328.1 272.9 329.8 272.7 331.4C272.5 333.1 272.4 334.7 272.2 336.3C272.0 338.0 271.9 339.6 271.7 341.2C271.5 342.9 271.4 344.5 271.2 346.2C271.1 347.8 270.9 349.4 270.7 351.1C270.6 352.7 270.4 354.4 270.3 356.0M252.5 35.6C250.8 35.7 249.2 35.8 247.5 36.0C245.9 36.2 244.2 36.4 242.6 36.7C241.0 37.1 239.3 37.4 237.8 37.9C236.2 38.4 234.1 38.9 233.3 40.0C232.5 41.0 232.1 43.1 232.6 44.3C233.1 45.7 234.9 46.7 236.3 47.7C237.6 48.7 239.1 49.4 240.5 50.3C242.0 51.1 243.5 51.8 244.9 52.6C246.4 53.3 247.9 54.0 249.4 54.7C250.9 55.4 252.5 56.1 254.0 56.8C255.5 57.5 257.0 58.2 258.5 58.8C260.0 59.5 261.6 60.2 263.1 60.9C264.6 61.6 266.1 62.3 267.6 63.0C269.1 63.7 270.6 64.4 272.1 65.1C273.6 65.8 275.1 66.5 276.6 67.2C278.1 68.0 279.6 68.7 281.0 69.5C282.5 70.3 284.0 71.1 285.4 71.9C286.9 72.7 288.3 73.5 289.8 74.4C291.2 75.2 292.6 76.1 294.0 77.0C295.4 77.9 296.7 78.9 298.1 79.8C299.4 80.8 300.7 81.8 302.0 82.9C303.3 84.0 304.5 85.1 305.7 86.2C306.9 87.4 308.1 88.6 309.2 89.8C310.2 91.1 311.3 92.4 312.2 93.8C313.2 95.1 314.0 96.6 314.8 98.0C315.6 99.5 316.3 101.0 316.8 102.6C317.4 104.1 317.9 105.7 318.3 107.4C318.7 109.0 318.9 110.6 319.1 112.3C319.3 113.9 319.4 115.6 319.5 117.2C319.5 118.9 319.4 120.6 319.4 122.2C319.3 123.9 319.1 125.5 318.9 127.2C318.7 128.8 318.4 130.5 318.1 132.1C317.8 133.7 317.5 135.4 317.1 137.0C316.8 138.6 316.4 140.2 316.0 141.9C315.6 143.5 315.2 145.1 314.7 146.7C314.3 148.3 313.9 149.9 313.4 151.5C312.9 153.1 312.5 154.7 312.0 156.3C311.5 157.9 311.0 159.4 310.5 161.0C310.0 162.6 309.6 164.2 309.1 165.8C308.6 167.4 308.1 169.0 307.6 170.5C307.1 172.1 306.6 173.7 306.1 175.3C305.6 176.9 305.1 178.5 304.6 180.1C304.1 181.7 303.6 183.2 303.1 184.8C302.6 186.4 302.1 188.0 301.7 189.6C301.2 191.2 300.7 192.8 300.2 194.4C299.8 196.0 299.3 197.6 298.8 199.2C298.4 200.8 297.9 202.4 297.5 204.0C297.0 205.6 296.6 207.2 296.1 208.8C295.7 210.4 295.2 212.0 294.8 213.6C294.4 215.2 294.0 216.8 293.5 218.4C293.1 220.0 292.7 221.6 292.3 223.2C291.9 224.8 291.5 226.4 291.1 228.1C290.7 229.7 290.3 231.3 289.9 232.9C289.6 234.5 289.2 236.1 288.8 237.8C288.5 239.4 288.1 241.0 287.7 242.6C287.4 244.3 287.0 245.9 286.7 247.5C286.3 249.1 286.0 250.8 285.7 252.4C285.3 254.0 285.0 255.6 284.7 257.3C284.4 258.9 284.1 260.5 283.7 262.2C283.4 263.8 283.1 265.4 282.8 267.1C282.5 268.7 282.2 270.3 281.9 272.0C281.7 273.6 281.4 275.3 281.1 276.9C280.8 278.5 280.5 280.2 280.3 281.8C280.0 283.4 279.7 285.1 279.5 286.7C279.2 288.4 279.0 290.0 278.7 291.7C278.5 293.3 278.2 294.9 278.0 296.6C277.7 298.2 277.5 299.9 277.3 301.5C277.0 303.2 276.8 304.8 276.6 306.5C276.4 308.1 276.1 309.8 275.9 311.4C275.7 313.1 275.5 314.7 275.3 316.4C275.1 318.0 274.9 319.6 274.7 321.3C274.5 322.9 274.3 324.6 274.1 326.3C273.9 327.9 273.7 329.6 273.5 331.2C273.3 332.9 273.1 334.5 273.0 336.2C272.8 337.8 272.6 339.5 272.4 341.1C272.3 342.8 272.1 344.4 271.9 346.1C271.8 347.7 271.6 349.4 271.4 351.0C271.3 352.7 271.1 354.3 270.9 356.0M252.5 35.6C250.9 35.9 249.1 35.9 247.6 36.5C246.1 37.0 243.8 37.8 243.4 38.9C243.0 40.0 244.2 42.0 245.1 43.2C246.1 44.4 247.8 45.2 249.2 46.1C250.6 47.0 252.0 47.7 253.5 48.5C255.0 49.3 256.5 50.0 258.0 50.7C259.5 51.5 261.0 52.2 262.5 52.9C264.0 53.6 265.5 54.3 267.0 54.9C268.5 55.6 270.1 56.3 271.6 57.0C273.1 57.7 274.6 58.4 276.1 59.1C277.6 59.8 279.1 60.5 280.6 61.2C282.1 61.9 283.6 62.6 285.1 63.4C286.6 64.1 288.1 64.9 289.6 65.6C291.0 66.4 292.5 67.2 294.0 68.0C295.4 68.8 296.9 69.6 298.3 70.5C299.7 71.3 301.1 72.2 302.5 73.1C303.9 74.0 305.3 75.0 306.6 75.9C307.9 76.9 309.3 77.9 310.5 79.0C311.8 80.1 313.1 81.2 314.2 82.4C315.4 83.5 316.6 84.7 317.6 86.0C318.7 87.3 319.7 88.6 320.6 90.0C321.5 91.4 322.4 92.8 323.1 94.3C323.8 95.8 324.4 97.4 324.9 99.0C325.4 100.5 325.8 102.2 326.1 103.8C326.4 105.4 326.6 107.1 326.7 108.7C326.8 110.4 326.8 112.1 326.7 113.7C326.6 115.4 326.4 117.1 326.2 118.7C326.0 120.3 325.7 122.0 325.4 123.6C325.1 125.3 324.8 126.9 324.4 128.5C324.0 130.1 323.6 131.7 323.1 133.3C322.7 134.9 322.2 136.5 321.7 138.1C321.2 139.7 320.7 141.3 320.2 142.9C319.7 144.4 319.1 146.0 318.6 147.6C318.1 149.2 317.5 150.7 317.0 152.3C316.4 153.9 315.8 155.4 315.3 157.0C314.7 158.6 314.2 160.1 313.6 161.7C313.0 163.2 312.5 164.8 311.9 166.4C311.3 167.9 310.8 169.5 310.2 171.1C309.7 172.6 309.1 174.2 308.6 175.8C308.0 177.3 307.4 178.9 306.9 180.5C306.4 182.1 305.8 183.6 305.3 185.2C304.7 186.8 304.2 188.3 303.7 189.9C303.2 191.5 302.7 193.1 302.1 194.7C301.6 196.2 301.1 197.8 300.6 199.4C300.1 201.0 299.6 202.6 299.1 204.2C298.7 205.8 298.2 207.4 297.7 209.0C297.2 210.5 296.8 212.1 296.3 213.7C295.9 215.3 295.4 216.9 295.0 218.5C294.5 220.1 294.1 221.7 293.6 223.4C293.2 225.0 292.8 226.6 292.4 228.2C292.0 229.8 291.6 231.4 291.1 233.0C290.7 234.6 290.4 236.2 290.0 237.9C289.6 239.5 289.2 241.1 288.8 242.7C288.4 244.3 288.1 245.9 287.7 247.6C287.3 249.2 287.0 250.8 286.6 252.4C286.3 254.1 285.9 255.7 285.6 257.3C285.3 259.0 284.9 260.6 284.6 262.2C284.3 263.8 284.0 265.5 283.7 267.1C283.3 268.7 283.0 270.4 282.7 272.0C282.4 273.6 282.1 275.3 281.9 276.9C281.6 278.6 281.3 280.2 281.0 281.8C280.7 283.5 280.4 285.1 280.2 286.7C279.9 288.4 279.6 290.0 279.4 291.7C279.1 293.3 278.9 295.0 278.6 296.6C278.4 298.2 278.1 299.9 277.9 301.5C277.6 303.2 277.4 304.8 277.2 306.5C276.9 308.1 276.7 309.8 276.5 311.4C276.3 313.1 276.0 314.7 275.8 316.4C275.6 318.0 275.4 319.7 275.2 321.3C275.0 323.0 274.8 324.6 274.6 326.3C274.4 327.9 274.2 329.6 274.0 331.2C273.8 332.9 273.6 334.5 273.4 336.2C273.2 337.8 273.0 339.5 272.9 341.1C272.7 342.8 272.5 344.4 272.3 346.1C272.2 347.7 272.0 349.4 271.8 351.0C271.7 352.7 271.5 354.3 271.3 356.0M252.5 35.6C251.9 36.7 250.4 37.9 250.6 38.9C250.8 40.0 253.1 41.1 254.4 42.0C255.8 42.9 257.3 43.7 258.7 44.4C260.2 45.2 261.7 45.9 263.1 46.6C264.6 47.3 266.1 48.0 267.6 48.7C269.1 49.4 270.6 50.1 272.1 50.7C273.6 51.4 275.1 52.1 276.6 52.8C278.1 53.4 279.7 54.1 281.2 54.8C282.7 55.5 284.2 56.1 285.7 56.8C287.1 57.5 288.6 58.2 290.1 58.9C291.6 59.7 293.1 60.4 294.6 61.1C296.0 61.9 297.5 62.6 299.0 63.4C300.4 64.1 301.9 64.9 303.3 65.8C304.7 66.6 306.2 67.4 307.6 68.3C309.0 69.1 310.3 70.0 311.7 71.0C313.1 71.9 314.4 72.9 315.7 73.9C317.0 74.9 318.3 75.9 319.5 77.0C320.7 78.1 321.9 79.3 323.0 80.5C324.1 81.7 325.2 83.0 326.2 84.3C327.1 85.6 328.0 87.0 328.8 88.5C329.6 89.9 330.3 91.4 330.9 93.0C331.4 94.5 331.9 96.1 332.2 97.7C332.5 99.3 332.7 101.0 332.8 102.6C333.0 104.3 332.9 105.9 332.9 107.6C332.8 109.2 332.6 110.9 332.4 112.5C332.2 114.1 331.9 115.7 331.5 117.4C331.2 119.0 330.8 120.6 330.3 122.2C329.9 123.7 329.4 125.3 329.0 126.9C328.5 128.5 327.9 130.0 327.4 131.6C326.9 133.2 326.3 134.7 325.7 136.2C325.2 137.8 324.6 139.3 324.0 140.9C323.4 142.4 322.8 143.9 322.2 145.5C321.6 147.0 321.0 148.5 320.4 150.1C319.8 151.6 319.2 153.1 318.5 154.7C317.9 156.2 317.3 157.7 316.7 159.2C316.1 160.8 315.5 162.3 314.9 163.8C314.2 165.4 313.6 166.9 313.0 168.4C312.4 170.0 311.8 171.5 311.2 173.0C310.6 174.6 310.1 176.1 309.5 177.7C308.9 179.2 308.3 180.7 307.7 182.3C307.2 183.8 306.6 185.4 306.0 186.9C305.5 188.5 304.9 190.0 304.4 191.6C303.8 193.1 303.3 194.7 302.8 196.3C302.2 197.8 301.7 199.4 301.2 200.9C300.7 202.5 300.2 204.1 299.7 205.7C299.2 207.2 298.7 208.8 298.2 210.4C297.7 211.9 297.2 213.5 296.8 215.1C296.3 216.7 295.8 218.3 295.4 219.8C294.9 221.4 294.5 223.0 294.0 224.6C293.6 226.2 293.2 227.8 292.7 229.4C292.3 231.0 291.9 232.6 291.5 234.2C291.1 235.8 290.7 237.4 290.3 239.0C289.9 240.6 289.5 242.2 289.1 243.8C288.7 245.4 288.3 247.0 288.0 248.6C287.6 250.2 287.3 251.8 286.9 253.4C286.5 255.0 286.2 256.6 285.9 258.2C285.5 259.8 285.2 261.5 284.8 263.1C284.5 264.7 284.2 266.3 283.9 267.9C283.6 269.5 283.3 271.2 282.9 272.8C282.6 274.4 282.3 276.0 282.1 277.6C281.8 279.3 281.5 280.9 281.2 282.5C280.9 284.1 280.6 285.7 280.4 287.4C280.1 289.0 279.8 290.6 279.6 292.3C279.3 293.9 279.0 295.5 278.8 297.1C278.5 298.8 278.3 300.4 278.0 302.0C277.8 303.7 277.6 305.3 277.3 306.9C277.1 308.5 276.9 310.2 276.6 311.8C276.4 313.4 276.2 315.1 276.0 316.7C275.8 318.3 275.5 320.0 275.3 321.6C275.1 323.2 274.9 324.9 274.7 326.5C274.5 328.2 274.3 329.8 274.1 331.4C273.9 333.1 273.7 334.7 273.6 336.3C273.4 338.0 273.2 339.6 273.0 341.2C272.8 342.9 272.6 344.5 272.5 346.2C272.3 347.8 272.1 349.4 272.0 351.1C271.8 352.7 271.6 354.4 271.5 356.0M252.5 35.6C253.7 36.6 254.8 37.7 256.2 38.6C257.5 39.5 259.1 40.1 260.6 40.8C262.1 41.5 263.7 42.2 265.2 42.8C266.7 43.5 268.2 44.2 269.8 44.8C271.3 45.5 272.8 46.1 274.4 46.7C275.9 47.4 277.4 48.0 278.9 48.7C280.5 49.3 282.0 50.0 283.5 50.6C285.1 51.3 286.6 51.9 288.1 52.6C289.6 53.3 291.1 53.9 292.7 54.6C294.2 55.3 295.7 56.0 297.2 56.7C298.7 57.4 300.2 58.1 301.7 58.9C303.2 59.6 304.6 60.4 306.1 61.2C307.6 61.9 309.0 62.7 310.5 63.6C311.9 64.4 313.3 65.3 314.7 66.2C316.1 67.0 317.5 68.0 318.9 68.9C320.2 69.9 321.5 70.9 322.8 71.9C324.1 73.0 325.4 74.1 326.6 75.2C327.7 76.4 328.9 77.6 329.9 78.9C331.0 80.2 332.0 81.5 332.9 82.9C333.7 84.3 334.5 85.8 335.2 87.3C335.8 88.8 336.4 90.4 336.8 92.0C337.2 93.6 337.5 95.3 337.6 97.0C337.8 98.6 337.8 100.3 337.7 101.9C337.7 103.6 337.5 105.2 337.2 106.9C337.0 108.5 336.7 110.2 336.3 111.8C336.0 113.4 335.5 115.0 335.1 116.6C334.6 118.2 334.1 119.8 333.5 121.3C333.0 122.9 332.4 124.5 331.9 126.0C331.3 127.6 330.7 129.1 330.1 130.7C329.4 132.2 328.8 133.8 328.2 135.3C327.5 136.8 326.9 138.3 326.2 139.9C325.6 141.4 324.9 142.9 324.2 144.4C323.6 146.0 322.9 147.5 322.2 149.0C321.6 150.5 320.9 152.0 320.2 153.6C319.6 155.1 318.9 156.6 318.2 158.1C317.6 159.7 316.9 161.2 316.3 162.7C315.6 164.2 315.0 165.8 314.3 167.3C313.7 168.8 313.0 170.4 312.4 171.9C311.8 173.4 311.1 175.0 310.5 176.5C309.9 178.1 309.3 179.6 308.7 181.2C308.1 182.7 307.5 184.3 306.9 185.8C306.3 187.4 305.7 188.9 305.2 190.5C304.6 192.0 304.0 193.6 303.5 195.2C302.9 196.7 302.4 198.3 301.8 199.9C301.3 201.4 300.8 203.0 300.2 204.6C299.7 206.2 299.2 207.7 298.7 209.3C298.2 210.9 297.7 212.5 297.2 214.1C296.7 215.7 296.2 217.3 295.8 218.8C295.3 220.4 294.8 222.0 294.4 223.6C293.9 225.2 293.5 226.8 293.0 228.4C292.6 230.0 292.2 231.6 291.7 233.2C291.3 234.9 290.9 236.5 290.5 238.1C290.1 239.7 289.7 241.3 289.3 242.9C288.9 244.5 288.5 246.1 288.1 247.8C287.8 249.4 287.4 251.0 287.0 252.6C286.7 254.2 286.3 255.9 286.0 257.5C285.6 259.1 285.3 260.7 284.9 262.4C284.6 264.0 284.3 265.6 283.9 267.2C283.6 268.9 283.3 270.5 283.0 272.1C282.7 273.8 282.4 275.4 282.1 277.0C281.8 278.7 281.5 280.3 281.2 281.9C280.9 283.6 280.6 285.2 280.3 286.8C280.1 288.5 279.8 290.1 279.5 291.8C279.3 293.4 279.0 295.0 278.7 296.7C278.5 298.3 278.2 300.0 278.0 301.6C277.7 303.2 277.5 304.9 277.3 306.5C277.0 308.2 276.8 309.8 276.6 311.5C276.3 313.1 276.1 314.8 275.9 316.4C275.7 318.0 275.4 319.7 275.2 321.3C275.0 323.0 274.8 324.6 274.6 326.3C274.4 327.9 274.2 329.6 274.0 331.2C273.8 332.9 273.6 334.5 273.4 336.2C273.2 337.8 273.1 339.5 272.9 341.1C272.7 342.8 272.5 344.4 272.3 346.1C272.2 347.7 272.0 349.4 271.8 351.0C271.7 352.7 271.5 354.3 271.3 356.0M252.5 35.6C254.1 36.2 255.6 36.7 257.2 37.3C258.8 37.8 260.3 38.4 261.9 38.9C263.5 39.5 265.0 40.0 266.6 40.6C268.2 41.2 269.7 41.7 271.3 42.3C272.9 42.9 274.4 43.5 276.0 44.0C277.6 44.6 279.1 45.2 280.7 45.8C282.2 46.4 283.8 47.0 285.3 47.6C286.9 48.2 288.4 48.8 290.0 49.4C291.5 50.1 293.0 50.7 294.6 51.4C296.1 52.0 297.6 52.7 299.1 53.3C300.7 54.0 302.2 54.7 303.7 55.4C305.2 56.1 306.7 56.9 308.2 57.6C309.7 58.4 311.1 59.1 312.6 59.9C314.1 60.7 315.5 61.6 316.9 62.4C318.4 63.3 319.8 64.1 321.1 65.1C322.5 66.0 323.9 67.0 325.2 68.0C326.5 69.0 327.8 70.1 329.0 71.2C330.3 72.3 331.5 73.5 332.6 74.7C333.7 75.9 334.7 77.3 335.7 78.6C336.6 80.0 337.4 81.5 338.1 82.9C338.8 84.4 339.4 86.0 339.9 87.6C340.3 89.2 340.6 90.9 340.8 92.5C341.0 94.2 341.0 95.8 341.0 97.5C340.9 99.2 340.7 100.8 340.5 102.5C340.2 104.1 339.9 105.7 339.5 107.4C339.1 109.0 338.6 110.6 338.1 112.2C337.6 113.8 337.1 115.3 336.5 116.9C336.0 118.5 335.3 120.0 334.7 121.6C334.1 123.1 333.5 124.6 332.8 126.2C332.2 127.7 331.5 129.2 330.8 130.7C330.1 132.3 329.4 133.8 328.7 135.3C328.0 136.8 327.3 138.3 326.6 139.8C325.9 141.3 325.2 142.8 324.5 144.3C323.8 145.8 323.1 147.4 322.4 148.9C321.7 150.4 321.0 151.9 320.3 153.4C319.6 154.9 318.9 156.4 318.2 157.9C317.6 159.4 316.9 161.0 316.2 162.5C315.5 164.0 314.8 165.5 314.2 167.1C313.5 168.6 312.9 170.1 312.2 171.6C311.6 173.2 310.9 174.7 310.3 176.2C309.7 177.8 309.0 179.3 308.4 180.9C307.8 182.4 307.2 184.0 306.6 185.5C306.0 187.1 305.4 188.6 304.8 190.2C304.2 191.7 303.6 193.3 303.1 194.9C302.5 196.4 302.0 198.0 301.4 199.6C300.9 201.1 300.3 202.7 299.8 204.3C299.3 205.9 298.8 207.5 298.2 209.0C297.7 210.6 297.2 212.2 296.7 213.8C296.2 215.4 295.8 217.0 295.3 218.6C294.8 220.2 294.3 221.8 293.9 223.4C293.4 225.0 293.0 226.6 292.5 228.2C292.1 229.8 291.7 231.4 291.2 233.0C290.8 234.6 290.4 236.2 290.0 237.8C289.6 239.4 289.2 241.1 288.8 242.7C288.4 244.3 288.0 245.9 287.6 247.5C287.2 249.1 286.9 250.8 286.5 252.4C286.1 254.0 285.8 255.6 285.4 257.3C285.1 258.9 284.7 260.5 284.4 262.2C284.1 263.8 283.7 265.4 283.4 267.0C283.1 268.7 282.8 270.3 282.5 272.0C282.2 273.6 281.9 275.2 281.6 276.9C281.3 278.5 281.0 280.1 280.7 281.8C280.4 283.4 280.1 285.1 279.8 286.7C279.6 288.3 279.3 290.0 279.0 291.6C278.8 293.3 278.5 294.9 278.3 296.6C278.0 298.2 277.7 299.8 277.5 301.5C277.3 303.1 277.0 304.8 276.8 306.4C276.5 308.1 276.3 309.7 276.1 311.4C275.9 313.0 275.6 314.7 275.4 316.3C275.2 318.0 275.0 319.6 274.8 321.3C274.6 322.9 274.4 324.6 274.2 326.2C274.0 327.9 273.8 329.5 273.6 331.2C273.4 332.8 273.2 334.5 273.0 336.1C272.8 337.8 272.6 339.4 272.5 341.1C272.3 342.8 272.1 344.4 271.9 346.1C271.8 347.7 271.6 349.4 271.4 351.0C271.2 352.7 271.1 354.3 270.9 356.0" stroke="#0a0a0a" stroke-width="1.12" fill="none" stroke-linejoin="round"/>
<path d="M398.10 35.60V356.00M409.50 35.60V356.00M420.90 35.60V356.00M432.30 35.60V356.00M443.70 35.60V356.00M455.10 35.60V356.00M466.50 35.60V356.00M477.90 35.60V356.00M489.30 35.60V356.00M500.70 35.60V356.00M512.10 35.60V356.00M386.70 35.60H523.50M386.70 67.64H523.50M386.70 99.68H523.50M386.70 131.72H523.50M386.70 163.76H523.50M386.70 195.80H523.50M386.70 227.84H523.50M386.70 259.88H523.50M386.70 291.92H523.50M386.70 323.96H523.50M386.70 356.00H523.50" stroke="#d9d9d9" stroke-width="0.9" fill="none"/>
<path d="M386.70 35.60V356.00M523.50 35.60V356.00M523.50 35.60h2.8M523.50 67.64h2.8M523.50 99.68h2.8M523.50 131.72h2.8M523.50 163.76h2.8M523.50 195.80h2.8M523.50 227.84h2.8M523.50 259.88h2.8M523.50 291.92h2.8M523.50 323.96h2.8M523.50 356.00h2.8" stroke="#bfbfbf" stroke-width="0.9" fill="none"/>
<path d="M386.70 35.60h-1.6M386.70 67.64h-1.6M386.70 99.68h-1.6M386.70 131.72h-1.6M386.70 163.76h-1.6M386.70 195.80h-1.6M386.70 227.84h-1.6M386.70 259.88h-1.6M386.70 291.92h-1.6M386.70 323.96h-1.6M386.70 356.00h-1.6" stroke="#d4d4d4" stroke-width="0.9" fill="none"/>
<text x="455.1" y="16.5" class="t">I<tspan class="ts" dx="0.4">z</tspan></text>
<text transform="translate(386.70 26.7) scale(.91 1)" class="xl">-0.04</text>
<text transform="translate(409.50 26.7) scale(.91 1)" class="xl">-0.02</text>
<text transform="translate(432.30 26.7) scale(.91 1)" class="xl">0</text>
<text transform="translate(455.10 26.7) scale(.91 1)" class="xl">0.02</text>
<text transform="translate(477.90 26.7) scale(.91 1)" class="xl">0.04</text>
<text transform="translate(500.70 26.7) scale(.91 1)" class="xl">0.06</text>
<text transform="translate(523.50 26.7) scale(.91 1)" class="xl">0.08</text>
<text x="381.90" y="38.20" class="yl">0</text>
<text x="381.90" y="70.24" class="yl">0.5</text>
<text x="381.90" y="102.58" class="yl b">1</text>
<text x="381.90" y="134.62" class="yl b">1.5</text>
<text x="381.90" y="166.66" class="yl b">2</text>
<text x="381.90" y="198.70" class="yl b">2.5</text>
<text x="381.90" y="230.74" class="yl b">3</text>
<text x="381.90" y="262.78" class="yl b">3.5</text>
<text x="381.90" y="294.82" class="yl b">4</text>
<text x="381.90" y="326.86" class="yl b">4.5</text>
<text x="381.90" y="358.90" class="yl b">5</text>
<text transform="translate(528.50 38.90) scale(.9 1)" class="yr">0</text>
<text transform="translate(528.50 70.94) scale(.9 1)" class="yr">0.25</text>
<text transform="translate(528.50 102.98) scale(.9 1)" class="yr">0.5</text>
<text transform="translate(528.50 135.02) scale(.9 1)" class="yr">0.75</text>
<text transform="translate(528.50 167.06) scale(.9 1)" class="yr">1</text>
<text transform="translate(528.50 199.10) scale(.9 1)" class="yr">1.25</text>
<text transform="translate(528.50 231.14) scale(.9 1)" class="yr">1.5</text>
<text transform="translate(528.50 263.18) scale(.9 1)" class="yr">1.75</text>
<text transform="translate(528.50 295.22) scale(.9 1)" class="yr">2</text>
<text transform="translate(528.50 327.26) scale(.9 1)" class="yr">2.25</text>
<text transform="translate(528.50 359.30) scale(.9 1)" class="yr">2.5</text>
<text x="381.10" y="345.3" class="zb" text-anchor="end">z/B</text>
<text x="528.90" y="344.9" class="zb zr">z/B</text>
<text x="410.80" y="143.30" class="an">(c)</text>
<text x="410.80" y="154.95" class="an">Triangular</text>
<text x="410.80" y="166.30" class="an">Point "Q"</text>
<text x="410.80" y="177.65" class="an">L/B=3</text>
<path d="M432.3 35.6C430.6 35.8 429.0 35.9 427.3 36.1C425.7 36.3 424.1 36.6 422.4 36.9C420.8 37.2 419.2 37.5 417.6 37.9C415.9 38.3 414.3 38.7 412.8 39.2C411.2 39.7 409.6 40.2 408.1 40.9C406.5 41.5 405.0 42.2 403.6 43.0C402.1 43.8 400.7 44.7 399.5 45.8C398.3 47.0 397.1 48.3 396.4 49.7C395.7 51.2 395.4 52.9 395.4 54.5C395.4 56.2 396.0 57.8 396.5 59.4C397.1 60.9 398.0 62.3 398.9 63.7C399.8 65.1 400.8 66.5 401.8 67.8C402.9 69.0 404.0 70.3 405.1 71.5C406.2 72.7 407.4 73.9 408.6 75.1C409.7 76.3 410.9 77.4 412.1 78.6C413.3 79.7 414.5 80.8 415.8 82.0C417.0 83.1 418.2 84.2 419.4 85.3C420.7 86.5 421.9 87.6 423.1 88.7C424.4 89.8 425.6 90.9 426.8 92.0C428.0 93.1 429.3 94.3 430.5 95.4C431.7 96.5 432.9 97.6 434.1 98.8C435.3 99.9 436.5 101.1 437.7 102.2C438.9 103.4 440.1 104.5 441.3 105.7C442.5 106.9 443.6 108.1 444.8 109.3C445.9 110.4 447.1 111.7 448.2 112.9C449.3 114.1 450.4 115.3 451.5 116.6C452.6 117.8 453.7 119.1 454.8 120.4C455.8 121.6 456.9 122.9 457.9 124.2C458.9 125.5 459.9 126.9 460.9 128.2C461.9 129.5 462.9 130.9 463.8 132.3C464.7 133.6 465.7 135.0 466.5 136.4C467.4 137.8 468.3 139.2 469.1 140.7C470.0 142.1 470.8 143.5 471.6 145.0C472.4 146.5 473.1 147.9 473.8 149.4C474.6 150.9 475.3 152.4 475.9 154.0C476.6 155.5 477.3 157.0 477.9 158.5C478.5 160.1 479.1 161.6 479.6 163.2C480.2 164.8 480.7 166.3 481.2 167.9C481.7 169.5 482.2 171.1 482.6 172.7C483.1 174.3 483.5 175.9 483.9 177.5C484.3 179.1 484.6 180.8 485.0 182.4C485.3 184.0 485.6 185.6 485.9 187.3C486.2 188.9 486.5 190.5 486.7 192.2C487.0 193.8 487.2 195.5 487.4 197.1C487.6 198.8 487.8 200.4 488.0 202.1C488.2 203.7 488.3 205.4 488.5 207.0C488.6 208.7 488.7 210.3 488.8 212.0C488.9 213.6 489.0 215.3 489.1 217.0C489.2 218.6 489.2 220.3 489.3 221.9C489.3 223.6 489.4 225.2 489.4 226.9C489.4 228.6 489.4 230.2 489.4 231.9C489.4 233.5 489.4 235.2 489.4 236.9C489.4 238.5 489.4 240.2 489.3 241.8C489.3 243.5 489.2 245.2 489.2 246.8C489.1 248.5 489.1 250.1 489.0 251.8C489.0 253.5 488.9 255.1 488.8 256.8C488.7 258.4 488.6 260.1 488.6 261.8C488.5 263.4 488.4 265.1 488.3 266.7C488.2 268.4 488.1 270.0 488.0 271.7C487.8 273.3 487.7 275.0 487.6 276.7C487.5 278.3 487.4 280.0 487.2 281.6C487.1 283.3 487.0 284.9 486.9 286.6C486.7 288.2 486.6 289.9 486.5 291.6C486.3 293.2 486.2 294.9 486.0 296.5C485.9 298.2 485.8 299.8 485.6 301.5C485.5 303.1 485.3 304.8 485.2 306.4C485.0 308.1 484.9 309.7 484.7 311.4C484.5 313.1 484.4 314.7 484.2 316.4C484.1 318.0 483.9 319.7 483.8 321.3C483.6 323.0 483.4 324.6 483.3 326.3C483.1 327.9 482.9 329.6 482.8 331.2C482.6 332.9 482.5 334.5 482.3 336.2C482.1 337.8 482.0 339.5 481.8 341.1C481.6 342.8 481.5 344.4 481.3 346.1C481.1 347.7 481.0 349.4 480.8 351.0C480.6 352.7 480.5 354.3 480.3 356.0M432.3 35.6C430.7 35.9 429.0 36.1 427.4 36.4C425.8 36.8 424.2 37.2 422.6 37.8C421.0 38.4 419.5 39.0 418.0 39.8C416.6 40.6 415.1 41.5 414.0 42.7C412.9 43.9 411.9 45.4 411.4 46.9C411.0 48.4 411.0 50.3 411.3 51.9C411.5 53.5 412.3 55.0 413.0 56.5C413.7 58.0 414.7 59.4 415.7 60.7C416.6 62.1 417.7 63.4 418.7 64.6C419.8 65.9 421.0 67.1 422.1 68.3C423.2 69.6 424.4 70.7 425.6 71.9C426.8 73.1 428.0 74.2 429.2 75.4C430.4 76.5 431.6 77.7 432.8 78.8C434.0 79.9 435.2 81.1 436.4 82.2C437.7 83.3 438.9 84.5 440.1 85.6C441.3 86.7 442.5 87.9 443.7 89.0C444.9 90.1 446.2 91.3 447.4 92.4C448.5 93.6 449.7 94.8 450.9 95.9C452.1 97.1 453.3 98.3 454.4 99.5C455.6 100.6 456.8 101.8 457.9 103.0C459.0 104.3 460.2 105.5 461.3 106.7C462.4 108.0 463.5 109.2 464.6 110.5C465.7 111.7 466.7 113.0 467.8 114.3C468.8 115.6 469.8 116.9 470.8 118.2C471.8 119.6 472.8 120.9 473.8 122.3C474.7 123.6 475.7 125.0 476.6 126.4C477.5 127.8 478.4 129.2 479.2 130.6C480.1 132.1 480.9 133.5 481.7 135.0C482.5 136.4 483.2 137.9 484.0 139.4C484.7 140.9 485.4 142.4 486.1 143.9C486.8 145.4 487.4 146.9 488.0 148.5C488.7 150.0 489.2 151.6 489.8 153.2C490.3 154.7 490.9 156.3 491.3 157.9C491.8 159.5 492.3 161.1 492.7 162.7C493.1 164.3 493.5 165.9 493.9 167.5C494.3 169.2 494.6 170.8 494.9 172.4C495.3 174.0 495.5 175.7 495.8 177.3C496.1 179.0 496.3 180.6 496.5 182.3C496.7 183.9 496.9 185.6 497.1 187.2C497.3 188.9 497.4 190.5 497.5 192.2C497.7 193.8 497.8 195.5 497.9 197.2C498.0 198.8 498.0 200.5 498.1 202.1C498.1 203.8 498.2 205.5 498.2 207.1C498.2 208.8 498.2 210.5 498.2 212.1C498.2 213.8 498.2 215.4 498.2 217.1C498.2 218.8 498.1 220.4 498.1 222.1C498.0 223.8 498.0 225.4 497.9 227.1C497.8 228.7 497.8 230.4 497.7 232.1C497.6 233.7 497.5 235.4 497.4 237.0C497.3 238.7 497.2 240.4 497.0 242.0C496.9 243.7 496.8 245.3 496.7 247.0C496.5 248.6 496.4 250.3 496.3 252.0C496.1 253.6 496.0 255.3 495.8 256.9C495.7 258.6 495.5 260.2 495.3 261.9C495.2 263.5 495.0 265.2 494.9 266.9C494.7 268.5 494.5 270.2 494.3 271.8C494.2 273.5 494.0 275.1 493.8 276.8C493.6 278.4 493.4 280.1 493.3 281.7C493.1 283.4 492.9 285.0 492.7 286.7C492.5 288.3 492.3 290.0 492.1 291.6C491.9 293.3 491.7 294.9 491.5 296.6C491.3 298.2 491.1 299.9 490.9 301.5C490.7 303.2 490.5 304.8 490.3 306.5C490.1 308.2 489.9 309.8 489.7 311.5C489.5 313.1 489.3 314.8 489.1 316.4C488.9 318.1 488.7 319.7 488.5 321.4C488.3 323.0 488.1 324.7 487.9 326.3C487.7 328.0 487.5 329.6 487.3 331.3C487.1 332.9 486.9 334.6 486.7 336.2C486.5 337.9 486.3 339.5 486.1 341.1C485.9 342.8 485.6 344.4 485.4 346.1C485.2 347.7 485.0 349.4 484.8 351.0C484.6 352.7 484.4 354.3 484.2 356.0M432.3 35.6C430.7 36.1 429.0 36.4 427.6 37.2C426.2 37.9 424.7 39.0 423.9 40.3C423.1 41.6 422.6 43.4 422.6 45.0C422.6 46.6 423.3 48.2 423.9 49.7C424.5 51.2 425.5 52.6 426.4 54.0C427.3 55.4 428.3 56.6 429.4 57.9C430.4 59.2 431.5 60.4 432.6 61.6C433.8 62.8 434.9 64.0 436.1 65.2C437.2 66.3 438.4 67.5 439.6 68.6C440.8 69.7 442.0 70.9 443.2 72.0C444.4 73.1 445.6 74.3 446.8 75.4C448.0 76.5 449.2 77.6 450.4 78.7C451.6 79.9 452.8 81.0 454.0 82.1C455.2 83.2 456.4 84.4 457.6 85.5C458.8 86.7 460.0 87.8 461.1 89.0C462.3 90.1 463.5 91.3 464.6 92.4C465.8 93.6 466.9 94.8 468.0 96.0C469.2 97.2 470.3 98.4 471.4 99.6C472.5 100.8 473.6 102.1 474.6 103.3C475.7 104.6 476.8 105.9 477.8 107.1C478.8 108.4 479.8 109.7 480.8 111.0C481.8 112.3 482.8 113.7 483.7 115.0C484.7 116.4 485.6 117.7 486.5 119.1C487.4 120.5 488.3 121.9 489.1 123.3C489.9 124.7 490.7 126.2 491.5 127.6C492.3 129.1 493.0 130.5 493.8 132.0C494.5 133.5 495.2 135.0 495.8 136.5C496.5 138.0 497.1 139.5 497.7 141.1C498.3 142.6 498.8 144.2 499.3 145.7C499.8 147.3 500.3 148.8 500.8 150.4C501.2 152.0 501.7 153.6 502.1 155.2C502.4 156.8 502.8 158.4 503.1 160.0C503.5 161.6 503.8 163.2 504.0 164.9C504.3 166.5 504.5 168.1 504.8 169.7C505.0 171.4 505.2 173.0 505.3 174.7C505.5 176.3 505.6 177.9 505.8 179.6C505.9 181.2 506.0 182.9 506.1 184.5C506.1 186.1 506.2 187.8 506.2 189.4C506.3 191.1 506.3 192.7 506.3 194.4C506.3 196.0 506.3 197.7 506.3 199.3C506.2 200.9 506.2 202.6 506.1 204.2C506.1 205.9 506.0 207.5 505.9 209.2C505.9 210.8 505.8 212.5 505.7 214.1C505.6 215.7 505.4 217.4 505.3 219.0C505.2 220.7 505.1 222.3 504.9 223.9C504.8 225.6 504.6 227.2 504.5 228.9C504.3 230.5 504.2 232.1 504.0 233.8C503.8 235.4 503.7 237.0 503.5 238.7C503.3 240.3 503.1 241.9 502.9 243.6C502.7 245.2 502.6 246.8 502.4 248.5C502.2 250.1 502.0 251.7 501.7 253.4C501.5 255.0 501.3 256.6 501.1 258.3C500.9 259.9 500.7 261.5 500.5 263.2C500.3 264.8 500.0 266.4 499.8 268.1C499.6 269.7 499.4 271.3 499.1 272.9C498.9 274.6 498.7 276.2 498.4 277.8C498.2 279.5 498.0 281.1 497.7 282.7C497.5 284.4 497.3 286.0 497.0 287.6C496.8 289.2 496.6 290.9 496.3 292.5C496.1 294.1 495.9 295.8 495.6 297.4C495.4 299.0 495.1 300.6 494.9 302.3C494.7 303.9 494.4 305.5 494.2 307.1C493.9 308.8 493.7 310.4 493.5 312.0C493.2 313.7 493.0 315.3 492.8 316.9C492.5 318.5 492.3 320.2 492.0 321.8C491.8 323.4 491.6 325.1 491.3 326.7C491.1 328.3 490.9 329.9 490.6 331.6C490.4 333.2 490.1 334.8 489.9 336.5C489.7 338.1 489.4 339.7 489.2 341.3C489.0 343.0 488.7 344.6 488.5 346.2C488.3 347.9 488.0 349.5 487.8 351.1C487.6 352.7 487.4 354.4 487.1 356.0M432.3 35.6C431.4 36.9 429.9 38.0 429.7 39.4C429.5 40.9 430.5 42.7 431.2 44.1C431.9 45.6 432.9 47.0 433.9 48.3C434.9 49.6 436.0 50.8 437.1 52.1C438.2 53.3 439.3 54.5 440.5 55.7C441.7 56.9 442.8 58.0 444.0 59.1C445.2 60.3 446.5 61.4 447.7 62.5C448.9 63.7 450.1 64.8 451.3 65.9C452.6 67.0 453.8 68.1 455.0 69.2C456.2 70.3 457.5 71.4 458.7 72.6C459.9 73.7 461.1 74.8 462.3 75.9C463.6 77.0 464.8 78.2 466.0 79.3C467.2 80.4 468.4 81.6 469.6 82.7C470.7 83.9 471.9 85.0 473.1 86.2C474.3 87.4 475.4 88.6 476.6 89.8C477.7 91.0 478.8 92.2 479.9 93.4C481.1 94.6 482.2 95.9 483.2 97.1C484.3 98.4 485.4 99.7 486.4 100.9C487.4 102.2 488.5 103.5 489.5 104.9C490.5 106.2 491.4 107.5 492.4 108.9C493.3 110.2 494.2 111.6 495.1 113.0C496.0 114.4 496.9 115.8 497.7 117.2C498.5 118.7 499.3 120.1 500.1 121.6C500.9 123.1 501.6 124.5 502.3 126.0C503.0 127.5 503.7 129.1 504.3 130.6C504.9 132.1 505.5 133.7 506.1 135.2C506.6 136.8 507.2 138.3 507.6 139.9C508.1 141.5 508.6 143.1 509.0 144.7C509.4 146.3 509.8 147.9 510.1 149.5C510.5 151.2 510.8 152.8 511.1 154.4C511.4 156.0 511.6 157.7 511.8 159.3C512.0 161.0 512.2 162.6 512.4 164.2C512.6 165.9 512.7 167.5 512.8 169.2C512.9 170.8 513.0 172.5 513.1 174.1C513.1 175.8 513.2 177.5 513.2 179.1C513.2 180.8 513.2 182.4 513.2 184.1C513.2 185.7 513.1 187.4 513.1 189.0C513.0 190.7 513.0 192.3 512.9 194.0C512.8 195.6 512.7 197.3 512.6 199.0C512.5 200.6 512.3 202.3 512.2 203.9C512.1 205.6 511.9 207.2 511.8 208.8C511.6 210.5 511.4 212.1 511.3 213.8C511.1 215.4 510.9 217.1 510.7 218.7C510.5 220.4 510.3 222.0 510.1 223.6C509.9 225.3 509.7 226.9 509.5 228.6C509.2 230.2 509.0 231.8 508.8 233.5C508.6 235.1 508.3 236.8 508.1 238.4C507.8 240.0 507.6 241.7 507.4 243.3C507.1 244.9 506.9 246.6 506.6 248.2C506.3 249.9 506.1 251.5 505.8 253.1C505.6 254.8 505.3 256.4 505.1 258.0C504.8 259.7 504.5 261.3 504.3 262.9C504.0 264.6 503.7 266.2 503.5 267.8C503.2 269.5 502.9 271.1 502.6 272.7C502.4 274.4 502.1 276.0 501.8 277.6C501.6 279.2 501.3 280.9 501.0 282.5C500.7 284.1 500.5 285.8 500.2 287.4C499.9 289.0 499.6 290.7 499.4 292.3C499.1 293.9 498.8 295.6 498.5 297.2C498.3 298.8 498.0 300.5 497.7 302.1C497.4 303.7 497.2 305.4 496.9 307.0C496.6 308.6 496.4 310.3 496.1 311.9C495.8 313.5 495.5 315.2 495.3 316.8C495.0 318.4 494.7 320.0 494.5 321.7C494.2 323.3 493.9 324.9 493.7 326.6C493.4 328.2 493.1 329.8 492.9 331.5C492.6 333.1 492.4 334.7 492.1 336.4C491.8 338.0 491.6 339.7 491.3 341.3C491.1 342.9 490.8 344.6 490.5 346.2C490.3 347.8 490.0 349.5 489.8 351.1C489.5 352.7 489.3 354.4 489.0 356.0M432.3 35.6C433.0 37.0 433.6 38.6 434.5 39.9C435.4 41.3 436.7 42.4 437.9 43.6C439.0 44.8 440.2 45.9 441.5 47.1C442.7 48.2 443.9 49.3 445.2 50.4C446.4 51.5 447.7 52.6 449.0 53.7C450.2 54.8 451.5 55.8 452.8 56.9C454.0 58.0 455.3 59.1 456.6 60.1C457.9 61.2 459.1 62.3 460.4 63.4C461.7 64.4 462.9 65.5 464.2 66.6C465.5 67.7 466.7 68.8 468.0 69.9C469.2 71.0 470.5 72.1 471.7 73.2C472.9 74.3 474.1 75.5 475.4 76.6C476.6 77.7 477.8 78.9 479.0 80.1C480.2 81.2 481.4 82.4 482.5 83.6C483.7 84.8 484.8 86.0 486.0 87.2C487.1 88.4 488.2 89.6 489.3 90.9C490.4 92.1 491.5 93.4 492.6 94.7C493.6 96.0 494.7 97.3 495.7 98.6C496.7 99.9 497.7 101.3 498.6 102.6C499.6 104.0 500.5 105.4 501.4 106.8C502.3 108.2 503.2 109.6 504.1 111.0C504.9 112.5 505.7 113.9 506.5 115.4C507.2 116.9 508.0 118.4 508.7 119.9C509.4 121.4 510.0 122.9 510.6 124.5C511.3 126.0 511.9 127.6 512.4 129.2C512.9 130.7 513.5 132.3 513.9 133.9C514.4 135.5 514.8 137.1 515.2 138.8C515.6 140.4 516.0 142.0 516.3 143.6C516.6 145.3 516.9 146.9 517.1 148.6C517.4 150.2 517.6 151.9 517.8 153.5C518.0 155.2 518.1 156.8 518.2 158.5C518.4 160.2 518.4 161.8 518.5 163.5C518.6 165.2 518.6 166.8 518.6 168.5C518.7 170.1 518.7 171.8 518.6 173.5C518.6 175.1 518.6 176.8 518.5 178.5C518.4 180.1 518.3 181.8 518.2 183.5C518.1 185.1 518.0 186.8 517.9 188.5C517.8 190.1 517.6 191.8 517.5 193.4C517.3 195.1 517.1 196.7 516.9 198.4C516.8 200.1 516.6 201.7 516.4 203.4C516.2 205.0 515.9 206.7 515.7 208.3C515.5 210.0 515.3 211.6 515.0 213.3C514.8 214.9 514.5 216.6 514.3 218.2C514.0 219.9 513.8 221.5 513.5 223.2C513.3 224.8 513.0 226.4 512.7 228.1C512.5 229.7 512.2 231.4 511.9 233.0C511.6 234.7 511.3 236.3 511.0 237.9C510.8 239.6 510.5 241.2 510.2 242.9C509.9 244.5 509.6 246.1 509.3 247.8C509.0 249.4 508.7 251.1 508.4 252.7C508.1 254.3 507.8 256.0 507.5 257.6C507.2 259.2 506.9 260.9 506.6 262.5C506.3 264.2 506.0 265.8 505.7 267.4C505.4 269.1 505.1 270.7 504.8 272.4C504.4 274.0 504.1 275.6 503.8 277.3C503.5 278.9 503.2 280.5 502.9 282.2C502.6 283.8 502.3 285.5 502.0 287.1C501.7 288.7 501.4 290.4 501.1 292.0C500.8 293.6 500.5 295.3 500.2 296.9C499.9 298.6 499.6 300.2 499.3 301.8C499.0 303.5 498.7 305.1 498.4 306.8C498.1 308.4 497.8 310.0 497.5 311.7C497.2 313.3 496.9 314.9 496.6 316.6C496.3 318.2 496.0 319.9 495.7 321.5C495.5 323.2 495.2 324.8 494.9 326.4C494.6 328.1 494.3 329.7 494.0 331.4C493.7 333.0 493.5 334.6 493.2 336.3C492.9 337.9 492.6 339.6 492.3 341.2C492.1 342.9 491.8 344.5 491.5 346.1C491.2 347.8 491.0 349.4 490.7 351.1C490.4 352.7 490.2 354.4 489.9 356.0M432.3 35.6C433.6 36.5 435.0 37.5 436.3 38.4C437.7 39.4 439.0 40.3 440.4 41.3C441.7 42.3 443.0 43.2 444.4 44.2C445.7 45.1 447.0 46.1 448.4 47.0C449.7 48.0 451.0 49.0 452.4 49.9C453.7 50.9 455.0 51.9 456.3 52.9C457.6 53.9 459.0 54.8 460.3 55.8C461.6 56.8 462.9 57.8 464.2 58.9C465.5 59.9 466.8 60.9 468.0 61.9C469.3 62.9 470.6 64.0 471.9 65.0C473.1 66.1 474.4 67.1 475.6 68.2C476.9 69.3 478.1 70.4 479.3 71.4C480.6 72.5 481.8 73.6 483.0 74.8C484.2 75.9 485.4 77.0 486.6 78.2C487.7 79.3 488.9 80.5 490.0 81.7C491.2 82.9 492.3 84.1 493.4 85.3C494.5 86.5 495.6 87.7 496.6 89.0C497.7 90.2 498.8 91.5 499.8 92.8C500.8 94.1 501.8 95.4 502.7 96.7C503.7 98.1 504.6 99.4 505.5 100.8C506.4 102.2 507.3 103.6 508.1 105.0C509.0 106.4 509.8 107.8 510.6 109.3C511.3 110.7 512.1 112.2 512.8 113.7C513.5 115.2 514.1 116.7 514.7 118.2C515.4 119.7 515.9 121.3 516.5 122.8C517.0 124.4 517.5 126.0 518.0 127.5C518.4 129.1 518.9 130.7 519.2 132.3C519.6 133.9 520.0 135.5 520.3 137.1C520.6 138.7 520.8 140.4 521.1 142.0C521.3 143.6 521.5 145.2 521.7 146.9C521.8 148.5 522.0 150.2 522.1 151.8C522.2 153.4 522.3 155.1 522.3 156.7C522.4 158.4 522.4 160.0 522.4 161.7C522.4 163.3 522.4 164.9 522.3 166.6C522.3 168.2 522.2 169.9 522.1 171.5C522.0 173.2 521.9 174.8 521.8 176.4C521.7 178.1 521.5 179.7 521.4 181.3C521.2 183.0 521.0 184.6 520.9 186.2C520.7 187.9 520.5 189.5 520.3 191.1C520.1 192.8 519.8 194.4 519.6 196.0C519.4 197.7 519.1 199.3 518.9 200.9C518.7 202.5 518.4 204.2 518.1 205.8C517.9 207.4 517.6 209.0 517.3 210.7C517.1 212.3 516.8 213.9 516.5 215.5C516.2 217.1 515.9 218.7 515.6 220.4C515.3 222.0 515.0 223.6 514.7 225.2C514.4 226.8 514.1 228.4 513.8 230.1C513.5 231.7 513.2 233.3 512.9 234.9C512.6 236.5 512.2 238.1 511.9 239.7C511.6 241.4 511.3 243.0 511.0 244.6C510.6 246.2 510.3 247.8 510.0 249.4C509.7 251.0 509.3 252.6 509.0 254.2C508.7 255.9 508.4 257.5 508.0 259.1C507.7 260.7 507.4 262.3 507.1 263.9C506.7 265.5 506.4 267.1 506.1 268.8C505.8 270.4 505.4 272.0 505.1 273.6C504.8 275.2 504.5 276.8 504.1 278.4C503.8 280.0 503.5 281.6 503.2 283.3C502.9 284.9 502.5 286.5 502.2 288.1C501.9 289.7 501.6 291.3 501.3 292.9C501.0 294.5 500.6 296.2 500.3 297.8C500.0 299.4 499.7 301.0 499.4 302.6C499.1 304.2 498.8 305.8 498.5 307.5C498.2 309.1 497.8 310.7 497.5 312.3C497.2 313.9 496.9 315.5 496.6 317.2C496.3 318.8 496.0 320.4 495.7 322.0C495.4 323.6 495.1 325.2 494.8 326.9C494.6 328.5 494.3 330.1 494.0 331.7C493.7 333.3 493.4 334.9 493.1 336.6C492.8 338.2 492.5 339.8 492.3 341.4C492.0 343.0 491.7 344.7 491.4 346.3C491.1 347.9 490.8 349.5 490.6 351.1C490.3 352.8 490.0 354.4 489.8 356.0" stroke="#6a6a6a" stroke-width="1.0" fill="none" stroke-dasharray="2.8 2.5"/>
<path d="M432.3 35.6C430.6 35.7 429.0 35.8 427.3 35.9C425.7 36.0 424.0 36.1 422.4 36.3C420.7 36.4 419.1 36.6 417.4 36.8C415.8 37.0 414.1 37.2 412.5 37.4C410.9 37.7 409.2 38.0 407.6 38.3C406.0 38.7 404.4 39.0 402.8 39.5C401.2 40.0 399.4 40.4 398.2 41.4C397.0 42.3 395.4 43.9 395.4 45.1C395.4 46.4 397.1 48.0 398.2 49.1C399.3 50.3 400.9 51.1 402.3 51.9C403.7 52.8 405.2 53.6 406.6 54.4C408.1 55.1 409.6 55.9 411.1 56.6C412.6 57.3 414.1 58.0 415.6 58.7C417.1 59.4 418.6 60.1 420.1 60.8C421.6 61.5 423.1 62.1 424.6 62.8C426.1 63.5 427.6 64.2 429.1 64.9C430.6 65.6 432.2 66.3 433.7 67.0C435.2 67.7 436.7 68.4 438.1 69.1C439.6 69.8 441.1 70.6 442.6 71.3C444.1 72.1 445.6 72.8 447.0 73.6C448.5 74.4 449.9 75.2 451.4 76.0C452.8 76.8 454.2 77.6 455.7 78.5C457.1 79.4 458.5 80.3 459.9 81.2C461.2 82.1 462.6 83.0 463.9 84.0C465.3 85.0 466.6 86.0 467.9 87.1C469.1 88.1 470.4 89.2 471.6 90.3C472.8 91.5 474.0 92.6 475.1 93.9C476.2 95.1 477.3 96.3 478.3 97.7C479.3 99.0 480.3 100.3 481.2 101.7C482.1 103.1 482.9 104.6 483.6 106.1C484.4 107.5 485.0 109.1 485.6 110.6C486.2 112.2 486.7 113.7 487.2 115.3C487.6 116.9 488.0 118.6 488.3 120.2C488.6 121.8 488.8 123.5 489.0 125.1C489.2 126.7 489.3 128.4 489.3 130.1C489.4 131.7 489.4 133.4 489.4 135.0C489.4 136.7 489.3 138.3 489.3 140.0C489.2 141.7 489.1 143.3 488.9 145.0C488.8 146.6 488.6 148.3 488.4 149.9C488.2 151.6 488.0 153.2 487.8 154.8C487.6 156.5 487.3 158.1 487.1 159.8C486.8 161.4 486.6 163.0 486.3 164.7C486.0 166.3 485.7 167.9 485.4 169.6C485.1 171.2 484.8 172.8 484.5 174.5C484.2 176.1 483.9 177.7 483.6 179.3C483.3 181.0 482.9 182.6 482.6 184.2C482.3 185.8 482.0 187.5 481.6 189.1C481.3 190.7 481.0 192.3 480.7 194.0C480.3 195.6 480.0 197.2 479.7 198.8C479.3 200.5 479.0 202.1 478.7 203.7C478.4 205.3 478.0 207.0 477.7 208.6C477.4 210.2 477.0 211.8 476.7 213.5C476.4 215.1 476.1 216.7 475.7 218.3C475.4 220.0 475.1 221.6 474.8 223.2C474.5 224.8 474.1 226.5 473.8 228.1C473.5 229.7 473.2 231.4 472.9 233.0C472.6 234.6 472.3 236.2 472.0 237.9C471.7 239.5 471.4 241.1 471.1 242.8C470.8 244.4 470.5 246.0 470.2 247.7C469.9 249.3 469.6 250.9 469.3 252.6C469.0 254.2 468.8 255.8 468.5 257.5C468.2 259.1 467.9 260.7 467.6 262.4C467.4 264.0 467.1 265.6 466.8 267.3C466.6 268.9 466.3 270.5 466.0 272.2C465.8 273.8 465.5 275.4 465.3 277.1C465.0 278.7 464.8 280.4 464.5 282.0C464.3 283.6 464.0 285.3 463.8 286.9C463.5 288.6 463.3 290.2 463.1 291.8C462.8 293.5 462.6 295.1 462.4 296.8C462.1 298.4 461.9 300.0 461.7 301.7C461.5 303.3 461.2 305.0 461.0 306.6C460.8 308.3 460.6 309.9 460.4 311.5C460.2 313.2 460.0 314.8 459.7 316.5C459.5 318.1 459.3 319.8 459.1 321.4C458.9 323.1 458.7 324.7 458.5 326.3C458.3 328.0 458.1 329.6 458.0 331.3C457.8 332.9 457.6 334.6 457.4 336.2C457.2 337.9 457.0 339.5 456.8 341.2C456.7 342.8 456.5 344.5 456.3 346.1C456.1 347.8 456.0 349.4 455.8 351.1C455.6 352.7 455.5 354.4 455.3 356.0M432.3 35.6C430.7 35.7 429.0 35.8 427.4 36.0C425.7 36.2 424.1 36.4 422.5 36.7C420.8 37.0 419.2 37.3 417.6 37.8C416.1 38.3 414.1 38.7 413.1 39.7C412.1 40.7 411.1 42.6 411.3 43.8C411.5 45.1 413.4 46.4 414.6 47.4C415.9 48.5 417.4 49.3 418.8 50.1C420.2 51.0 421.7 51.7 423.1 52.5C424.6 53.3 426.1 54.0 427.6 54.7C429.0 55.4 430.5 56.1 432.0 56.9C433.5 57.6 435.0 58.2 436.5 58.9C438.0 59.6 439.5 60.3 441.0 61.0C442.5 61.7 444.0 62.4 445.5 63.1C447.0 63.9 448.5 64.6 450.0 65.3C451.5 66.0 452.9 66.8 454.4 67.5C455.9 68.3 457.3 69.0 458.8 69.8C460.3 70.6 461.7 71.4 463.1 72.2C464.6 73.0 466.0 73.9 467.4 74.7C468.8 75.6 470.2 76.5 471.6 77.4C472.9 78.3 474.3 79.3 475.6 80.3C476.9 81.3 478.2 82.3 479.5 83.4C480.8 84.4 482.0 85.5 483.2 86.7C484.4 87.8 485.5 89.0 486.6 90.3C487.7 91.5 488.7 92.8 489.6 94.2C490.6 95.5 491.5 96.9 492.3 98.4C493.1 99.8 493.8 101.3 494.5 102.8C495.1 104.3 495.6 105.9 496.1 107.5C496.6 109.1 497.0 110.7 497.3 112.3C497.6 113.9 497.8 115.6 498.0 117.2C498.1 118.9 498.2 120.5 498.2 122.2C498.3 123.8 498.2 125.5 498.2 127.1C498.1 128.8 498.0 130.4 497.8 132.1C497.7 133.7 497.5 135.3 497.3 137.0C497.1 138.6 496.8 140.3 496.6 141.9C496.3 143.5 496.0 145.1 495.7 146.8C495.4 148.4 495.1 150.0 494.8 151.6C494.4 153.3 494.1 154.9 493.7 156.5C493.4 158.1 493.0 159.7 492.7 161.3C492.3 162.9 491.9 164.5 491.5 166.1C491.1 167.7 490.8 169.4 490.4 171.0C490.0 172.6 489.6 174.2 489.2 175.8C488.8 177.4 488.4 179.0 488.0 180.6C487.6 182.2 487.2 183.8 486.8 185.4C486.4 187.0 486.0 188.6 485.6 190.2C485.2 191.8 484.8 193.4 484.4 195.0C484.0 196.6 483.6 198.2 483.2 199.8C482.8 201.4 482.5 203.0 482.1 204.6C481.7 206.3 481.3 207.9 480.9 209.5C480.5 211.1 480.2 212.7 479.8 214.3C479.4 215.9 479.0 217.5 478.7 219.1C478.3 220.7 477.9 222.3 477.6 224.0C477.2 225.6 476.9 227.2 476.5 228.8C476.1 230.4 475.8 232.0 475.4 233.6C475.1 235.3 474.8 236.9 474.4 238.5C474.1 240.1 473.7 241.7 473.4 243.3C473.1 245.0 472.8 246.6 472.4 248.2C472.1 249.8 471.8 251.4 471.5 253.1C471.2 254.7 470.8 256.3 470.5 257.9C470.2 259.6 469.9 261.2 469.6 262.8C469.3 264.4 469.0 266.1 468.7 267.7C468.4 269.3 468.2 270.9 467.9 272.6C467.6 274.2 467.3 275.8 467.0 277.4C466.8 279.1 466.5 280.7 466.2 282.3C465.9 284.0 465.7 285.6 465.4 287.2C465.1 288.9 464.9 290.5 464.6 292.1C464.4 293.7 464.1 295.4 463.9 297.0C463.6 298.6 463.4 300.3 463.1 301.9C462.9 303.5 462.7 305.2 462.4 306.8C462.2 308.5 462.0 310.1 461.7 311.7C461.5 313.4 461.3 315.0 461.1 316.6C460.8 318.3 460.6 319.9 460.4 321.6C460.2 323.2 460.0 324.8 459.8 326.5C459.6 328.1 459.3 329.7 459.1 331.4C458.9 333.0 458.7 334.7 458.5 336.3C458.3 337.9 458.1 339.6 458.0 341.2C457.8 342.9 457.6 344.5 457.4 346.1C457.2 347.8 457.0 349.4 456.8 351.1C456.7 352.7 456.5 354.4 456.3 356.0M432.3 35.6C430.7 35.9 429.0 35.9 427.4 36.4C425.9 37.0 423.6 37.6 423.1 38.7C422.6 39.8 423.5 41.9 424.3 43.1C425.1 44.3 426.9 45.1 428.2 46.1C429.6 47.0 431.1 47.7 432.5 48.5C434.0 49.3 435.4 50.1 436.9 50.8C438.4 51.5 439.9 52.2 441.4 53.0C442.9 53.7 444.4 54.4 445.9 55.1C447.4 55.8 448.9 56.5 450.4 57.2C451.9 57.9 453.4 58.5 454.9 59.3C456.4 60.0 457.9 60.7 459.3 61.4C460.8 62.1 462.3 62.9 463.8 63.6C465.3 64.3 466.7 65.1 468.2 65.9C469.6 66.7 471.1 67.4 472.5 68.3C474.0 69.1 475.4 69.9 476.8 70.8C478.2 71.6 479.6 72.5 481.0 73.4C482.4 74.3 483.7 75.3 485.1 76.3C486.4 77.3 487.7 78.3 489.0 79.3C490.2 80.4 491.5 81.5 492.6 82.7C493.8 83.8 494.9 85.0 496.0 86.3C497.1 87.5 498.1 88.8 499.0 90.2C500.0 91.6 500.8 93.0 501.6 94.5C502.3 95.9 503.0 97.4 503.6 99.0C504.2 100.5 504.6 102.1 505.0 103.7C505.4 105.3 505.7 107.0 505.9 108.6C506.1 110.2 506.2 111.9 506.3 113.6C506.3 115.2 506.3 116.9 506.2 118.5C506.1 120.2 506.0 121.8 505.8 123.5C505.6 125.1 505.4 126.7 505.2 128.4C504.9 130.0 504.6 131.6 504.3 133.2C504.0 134.9 503.6 136.5 503.3 138.1C502.9 139.7 502.5 141.3 502.1 142.9C501.7 144.5 501.3 146.1 500.9 147.7C500.5 149.3 500.1 150.9 499.6 152.5C499.2 154.1 498.7 155.7 498.3 157.3C497.8 158.9 497.4 160.5 496.9 162.1C496.5 163.6 496.0 165.2 495.5 166.8C495.1 168.4 494.6 170.0 494.1 171.6C493.7 173.2 493.2 174.7 492.7 176.3C492.3 177.9 491.8 179.5 491.3 181.1C490.9 182.7 490.4 184.3 490.0 185.9C489.5 187.4 489.0 189.0 488.6 190.6C488.1 192.2 487.7 193.8 487.2 195.4C486.8 197.0 486.4 198.6 485.9 200.2C485.5 201.8 485.0 203.4 484.6 205.0C484.2 206.6 483.8 208.1 483.3 209.7C482.9 211.3 482.5 212.9 482.1 214.5C481.7 216.1 481.2 217.7 480.8 219.3C480.4 220.9 480.0 222.6 479.6 224.2C479.2 225.8 478.9 227.4 478.5 229.0C478.1 230.6 477.7 232.2 477.3 233.8C476.9 235.4 476.6 237.0 476.2 238.6C475.8 240.2 475.5 241.9 475.1 243.5C474.8 245.1 474.4 246.7 474.1 248.3C473.7 249.9 473.4 251.5 473.0 253.2C472.7 254.8 472.3 256.4 472.0 258.0C471.7 259.6 471.4 261.3 471.0 262.9C470.7 264.5 470.4 266.1 470.1 267.7C469.8 269.4 469.5 271.0 469.2 272.6C468.9 274.2 468.6 275.9 468.3 277.5C468.0 279.1 467.7 280.7 467.4 282.4C467.1 284.0 466.8 285.6 466.5 287.3C466.3 288.9 466.0 290.5 465.7 292.1C465.4 293.8 465.2 295.4 464.9 297.0C464.6 298.7 464.4 300.3 464.1 301.9C463.9 303.6 463.6 305.2 463.4 306.8C463.1 308.5 462.9 310.1 462.6 311.7C462.4 313.4 462.2 315.0 461.9 316.6C461.7 318.3 461.5 319.9 461.2 321.6C461.0 323.2 460.8 324.8 460.6 326.5C460.4 328.1 460.1 329.7 459.9 331.4C459.7 333.0 459.5 334.7 459.3 336.3C459.1 337.9 458.9 339.6 458.7 341.2C458.5 342.9 458.3 344.5 458.1 346.1C457.9 347.8 457.7 349.4 457.5 351.1C457.3 352.7 457.1 354.4 456.9 356.0M432.3 35.6C431.6 36.7 430.1 37.9 430.3 38.9C430.5 40.0 432.7 41.1 434.1 42.1C435.4 43.0 436.9 43.8 438.4 44.6C439.9 45.3 441.4 46.1 442.9 46.8C444.3 47.5 445.9 48.2 447.4 48.9C448.9 49.6 450.4 50.3 451.9 51.0C453.4 51.7 454.9 52.4 456.4 53.1C457.9 53.7 459.5 54.4 461.0 55.1C462.5 55.8 464.0 56.5 465.5 57.2C467.0 57.9 468.5 58.6 470.0 59.4C471.5 60.1 473.0 60.8 474.4 61.6C475.9 62.4 477.4 63.1 478.9 63.9C480.3 64.7 481.8 65.5 483.2 66.3C484.6 67.2 486.1 68.0 487.5 68.9C488.9 69.8 490.3 70.7 491.6 71.7C493.0 72.7 494.3 73.6 495.6 74.7C496.9 75.7 498.2 76.8 499.4 77.9C500.6 79.1 501.8 80.2 502.9 81.5C504.0 82.7 505.1 84.0 506.0 85.3C507.0 86.7 507.9 88.1 508.7 89.6C509.5 91.0 510.2 92.5 510.7 94.1C511.3 95.6 511.8 97.2 512.2 98.9C512.5 100.5 512.8 102.1 513.0 103.8C513.1 105.4 513.2 107.1 513.2 108.7C513.2 110.4 513.1 112.1 513.0 113.7C512.8 115.4 512.6 117.0 512.4 118.7C512.1 120.3 511.8 121.9 511.5 123.6C511.2 125.2 510.8 126.8 510.4 128.4C510.0 130.1 509.6 131.7 509.1 133.3C508.7 134.9 508.2 136.5 507.8 138.1C507.3 139.6 506.8 141.2 506.3 142.8C505.8 144.4 505.3 146.0 504.8 147.6C504.3 149.2 503.8 150.7 503.3 152.3C502.7 153.9 502.2 155.5 501.7 157.0C501.2 158.6 500.6 160.2 500.1 161.8C499.6 163.3 499.0 164.9 498.5 166.5C498.0 168.1 497.5 169.6 496.9 171.2C496.4 172.8 495.9 174.4 495.4 175.9C494.8 177.5 494.3 179.1 493.8 180.7C493.3 182.3 492.8 183.8 492.3 185.4C491.8 187.0 491.3 188.6 490.8 190.2C490.3 191.8 489.8 193.3 489.3 194.9C488.8 196.5 488.3 198.1 487.8 199.7C487.4 201.3 486.9 202.9 486.4 204.5C486.0 206.1 485.5 207.7 485.0 209.3C484.6 210.9 484.1 212.5 483.7 214.1C483.2 215.7 482.8 217.3 482.3 218.9C481.9 220.5 481.5 222.1 481.1 223.7C480.6 225.3 480.2 226.9 479.8 228.5C479.4 230.1 479.0 231.7 478.6 233.3C478.2 234.9 477.8 236.6 477.4 238.2C477.0 239.8 476.6 241.4 476.2 243.0C475.8 244.6 475.5 246.3 475.1 247.9C474.7 249.5 474.4 251.1 474.0 252.7C473.6 254.4 473.3 256.0 472.9 257.6C472.6 259.2 472.2 260.9 471.9 262.5C471.6 264.1 471.2 265.7 470.9 267.4C470.6 269.0 470.3 270.6 469.9 272.3C469.6 273.9 469.3 275.5 469.0 277.1C468.7 278.8 468.4 280.4 468.1 282.0C467.8 283.7 467.5 285.3 467.2 286.9C466.9 288.6 466.6 290.2 466.3 291.9C466.0 293.5 465.8 295.1 465.5 296.8C465.2 298.4 464.9 300.0 464.7 301.7C464.4 303.3 464.2 305.0 463.9 306.6C463.6 308.3 463.4 309.9 463.1 311.5C462.9 313.2 462.6 314.8 462.4 316.5C462.1 318.1 461.9 319.8 461.7 321.4C461.4 323.0 461.2 324.7 461.0 326.3C460.8 328.0 460.5 329.6 460.3 331.3C460.1 332.9 459.9 334.6 459.7 336.2C459.4 337.9 459.2 339.5 459.0 341.2C458.8 342.8 458.6 344.5 458.4 346.1C458.2 347.8 458.0 349.4 457.8 351.0C457.6 352.7 457.4 354.3 457.2 356.0M432.3 35.6C433.5 36.6 434.6 37.7 435.9 38.6C437.3 39.5 438.9 40.1 440.4 40.8C441.9 41.5 443.4 42.2 444.9 42.9C446.4 43.5 447.9 44.2 449.4 44.8C451.0 45.5 452.5 46.1 454.0 46.8C455.5 47.4 457.1 48.1 458.6 48.7C460.1 49.4 461.6 50.0 463.2 50.7C464.7 51.3 466.2 52.0 467.7 52.6C469.2 53.3 470.7 54.0 472.2 54.7C473.7 55.3 475.2 56.0 476.7 56.8C478.2 57.5 479.7 58.2 481.2 58.9C482.7 59.7 484.2 60.4 485.6 61.2C487.1 62.0 488.5 62.8 490.0 63.6C491.4 64.4 492.8 65.3 494.2 66.2C495.6 67.0 497.0 68.0 498.3 68.9C499.7 69.9 501.0 70.8 502.3 71.9C503.6 72.9 504.9 74.0 506.1 75.1C507.3 76.3 508.4 77.4 509.5 78.7C510.6 79.9 511.6 81.2 512.6 82.6C513.5 84.0 514.3 85.4 515.1 86.9C515.8 88.4 516.4 89.9 516.9 91.5C517.4 93.0 517.8 94.7 518.1 96.3C518.4 97.9 518.5 99.6 518.6 101.2C518.7 102.9 518.7 104.5 518.6 106.2C518.5 107.8 518.3 109.5 518.0 111.1C517.8 112.8 517.5 114.4 517.2 116.0C516.8 117.6 516.4 119.2 516.0 120.8C515.6 122.4 515.2 124.0 514.7 125.6C514.2 127.2 513.7 128.8 513.2 130.4C512.7 131.9 512.2 133.5 511.6 135.1C511.1 136.6 510.6 138.2 510.0 139.7C509.4 141.3 508.9 142.9 508.3 144.4C507.7 146.0 507.2 147.5 506.6 149.1C506.0 150.6 505.4 152.2 504.9 153.7C504.3 155.3 503.7 156.8 503.1 158.4C502.5 159.9 502.0 161.5 501.4 163.0C500.8 164.6 500.2 166.1 499.7 167.7C499.1 169.2 498.5 170.8 498.0 172.3C497.4 173.9 496.8 175.5 496.3 177.0C495.7 178.6 495.2 180.1 494.6 181.7C494.1 183.3 493.6 184.8 493.0 186.4C492.5 188.0 492.0 189.5 491.4 191.1C490.9 192.7 490.4 194.2 489.9 195.8C489.4 197.4 488.9 199.0 488.4 200.5C487.9 202.1 487.4 203.7 486.9 205.3C486.4 206.9 485.9 208.4 485.5 210.0C485.0 211.6 484.5 213.2 484.1 214.8C483.6 216.4 483.1 218.0 482.7 219.5C482.2 221.1 481.8 222.7 481.4 224.3C480.9 225.9 480.5 227.5 480.1 229.1C479.6 230.7 479.2 232.3 478.8 233.9C478.4 235.5 478.0 237.1 477.6 238.7C477.2 240.3 476.8 241.9 476.4 243.6C476.0 245.2 475.6 246.8 475.2 248.4C474.9 250.0 474.5 251.6 474.1 253.2C473.8 254.8 473.4 256.4 473.0 258.1C472.7 259.7 472.3 261.3 472.0 262.9C471.6 264.5 471.3 266.1 471.0 267.8C470.6 269.4 470.3 271.0 470.0 272.6C469.7 274.3 469.3 275.9 469.0 277.5C468.7 279.1 468.4 280.7 468.1 282.4C467.8 284.0 467.5 285.6 467.2 287.3C466.9 288.9 466.6 290.5 466.3 292.1C466.0 293.8 465.7 295.4 465.5 297.0C465.2 298.7 464.9 300.3 464.7 301.9C464.4 303.6 464.1 305.2 463.9 306.8C463.6 308.5 463.3 310.1 463.1 311.7C462.8 313.4 462.6 315.0 462.3 316.6C462.1 318.3 461.9 319.9 461.6 321.5C461.4 323.2 461.2 324.8 460.9 326.5C460.7 328.1 460.5 329.7 460.2 331.4C460.0 333.0 459.8 334.7 459.6 336.3C459.4 337.9 459.2 339.6 458.9 341.2C458.7 342.9 458.5 344.5 458.3 346.1C458.1 347.8 457.9 349.4 457.7 351.1C457.5 352.7 457.3 354.4 457.2 356.0M432.3 35.6C433.9 36.2 435.4 36.7 437.0 37.3C438.6 37.8 440.1 38.4 441.7 38.9C443.3 39.5 444.8 40.0 446.4 40.6C447.9 41.2 449.5 41.7 451.1 42.3C452.6 42.9 454.2 43.4 455.7 44.0C457.3 44.6 458.8 45.2 460.4 45.8C461.9 46.4 463.5 47.0 465.0 47.6C466.6 48.2 468.1 48.8 469.7 49.4C471.2 50.0 472.7 50.7 474.3 51.3C475.8 52.0 477.3 52.6 478.8 53.3C480.3 54.0 481.9 54.7 483.4 55.4C484.9 56.1 486.4 56.8 487.8 57.5C489.3 58.3 490.8 59.0 492.3 59.8C493.7 60.6 495.2 61.4 496.6 62.3C498.0 63.1 499.4 64.0 500.8 64.9C502.2 65.8 503.6 66.7 504.9 67.7C506.2 68.7 507.5 69.8 508.8 70.8C510.0 71.9 511.3 73.1 512.4 74.3C513.5 75.5 514.6 76.7 515.6 78.1C516.6 79.4 517.6 80.8 518.4 82.2C519.1 83.7 519.8 85.2 520.4 86.8C521.0 88.3 521.4 89.9 521.7 91.6C522.1 93.2 522.2 94.8 522.3 96.5C522.4 98.1 522.4 99.8 522.3 101.5C522.2 103.1 522.0 104.8 521.7 106.4C521.5 108.1 521.1 109.7 520.8 111.3C520.4 112.9 520.0 114.5 519.5 116.1C519.1 117.7 518.6 119.3 518.1 120.9C517.6 122.5 517.0 124.0 516.5 125.6C515.9 127.2 515.3 128.7 514.8 130.3C514.2 131.8 513.6 133.4 513.0 134.9C512.4 136.5 511.8 138.0 511.2 139.6C510.6 141.1 509.9 142.6 509.3 144.2C508.7 145.7 508.1 147.3 507.5 148.8C506.8 150.3 506.2 151.9 505.6 153.4C505.0 155.0 504.4 156.5 503.7 158.0C503.1 159.6 502.5 161.1 501.9 162.7C501.3 164.2 500.7 165.8 500.1 167.3C499.5 168.9 498.9 170.4 498.3 172.0C497.7 173.5 497.1 175.1 496.5 176.6C496.0 178.2 495.4 179.7 494.8 181.3C494.3 182.8 493.7 184.4 493.1 186.0C492.6 187.5 492.0 189.1 491.5 190.7C491.0 192.2 490.4 193.8 489.9 195.4C489.4 197.0 488.8 198.5 488.3 200.1C487.8 201.7 487.3 203.3 486.8 204.9C486.3 206.4 485.8 208.0 485.3 209.6C484.8 211.2 484.3 212.8 483.9 214.4C483.4 216.0 482.9 217.6 482.5 219.1C482.0 220.7 481.6 222.3 481.1 223.9C480.7 225.5 480.2 227.1 479.8 228.7C479.3 230.3 478.9 231.9 478.5 233.5C478.1 235.2 477.7 236.8 477.3 238.4C476.8 240.0 476.4 241.6 476.0 243.2C475.7 244.8 475.3 246.4 474.9 248.0C474.5 249.7 474.1 251.3 473.7 252.9C473.4 254.5 473.0 256.1 472.6 257.7C472.3 259.4 471.9 261.0 471.6 262.6C471.2 264.2 470.9 265.9 470.6 267.5C470.2 269.1 469.9 270.7 469.6 272.4C469.2 274.0 468.9 275.6 468.6 277.2C468.3 278.9 468.0 280.5 467.7 282.1C467.3 283.8 467.0 285.4 466.7 287.0C466.5 288.7 466.2 290.3 465.9 291.9C465.6 293.6 465.3 295.2 465.0 296.8C464.7 298.5 464.5 300.1 464.2 301.7C463.9 303.4 463.7 305.0 463.4 306.7C463.1 308.3 462.9 309.9 462.6 311.6C462.4 313.2 462.1 314.9 461.9 316.5C461.6 318.1 461.4 319.8 461.2 321.4C460.9 323.1 460.7 324.7 460.5 326.4C460.2 328.0 460.0 329.7 459.8 331.3C459.6 332.9 459.4 334.6 459.1 336.2C458.9 337.9 458.7 339.5 458.5 341.2C458.3 342.8 458.1 344.5 457.9 346.1C457.7 347.8 457.5 349.4 457.3 351.1C457.1 352.7 456.9 354.4 456.7 356.0" stroke="#0a0a0a" stroke-width="1.12" fill="none" stroke-linejoin="round"/>
</svg>
</body></html>
